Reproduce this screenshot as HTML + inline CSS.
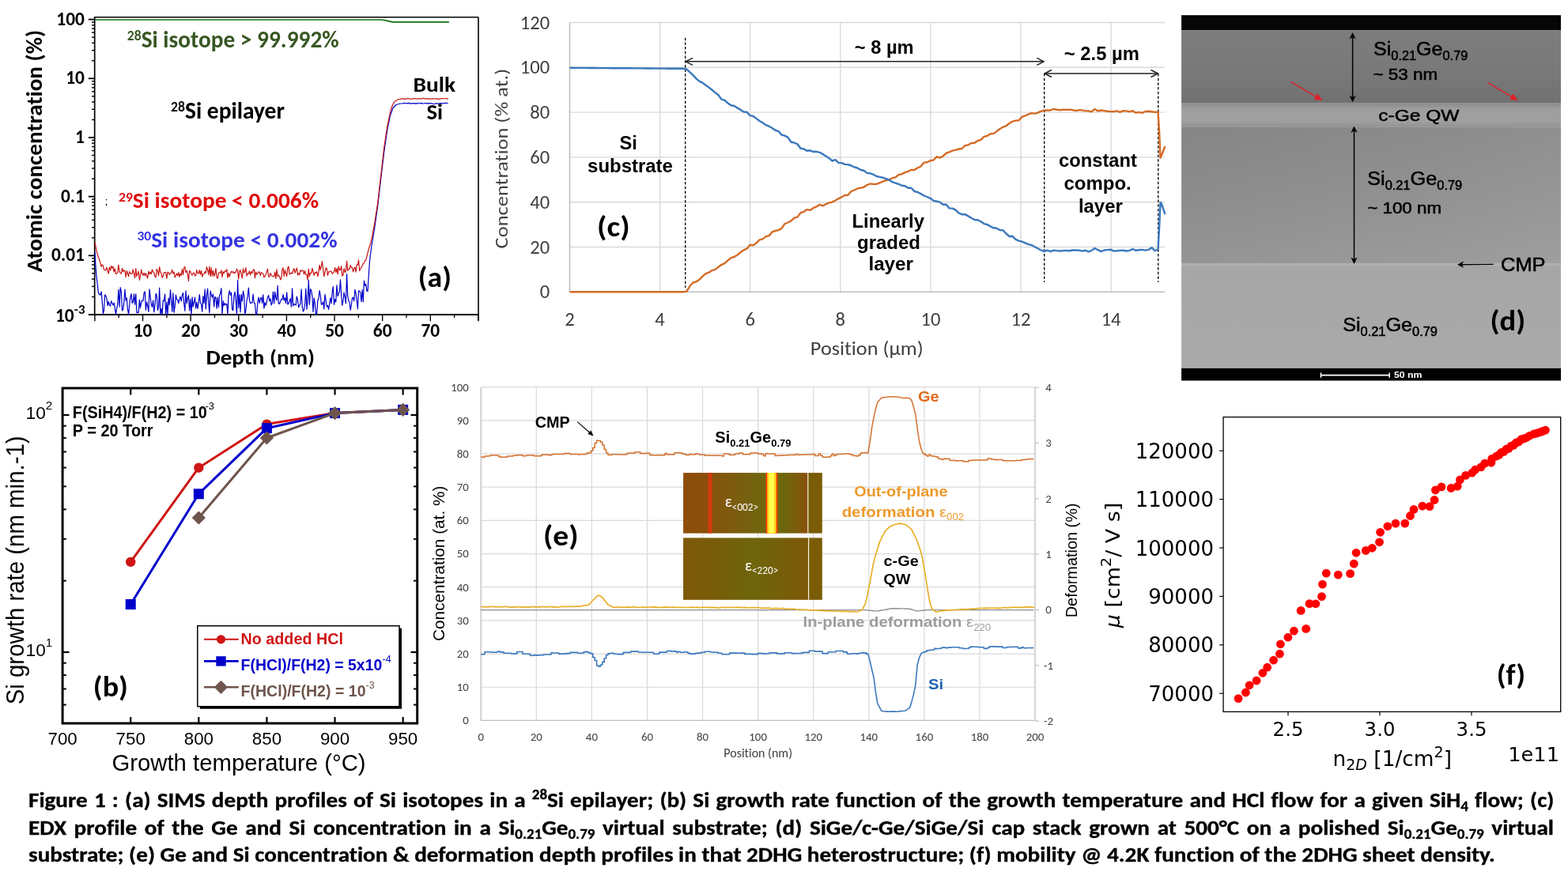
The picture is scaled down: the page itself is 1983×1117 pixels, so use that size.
<!DOCTYPE html>
<html><head><meta charset="utf-8"><title>Figure 1</title>
<style>html,body{margin:0;padding:0;background:#fff;overflow:hidden;}svg{display:block;} text{font-variant-ligatures:none;}</style></head>
<body><svg width="1983" height="1117" viewBox="0 0 1983 1117">
<rect width="1983" height="1117" fill="#fff"/>
<line x1="605.00" y1="21.80" x2="605.00" y2="405.50" stroke="#000" stroke-width="1.6"/>
<line x1="119.70" y1="21.80" x2="605.00" y2="21.80" stroke="#000" stroke-width="1.6"/>
<line x1="119.70" y1="21.00" x2="119.70" y2="398.80" stroke="#000" stroke-width="1.7"/>
<line x1="112.00" y1="398.00" x2="606.00" y2="398.00" stroke="#000" stroke-width="2"/>
<line x1="111.80" y1="398.00" x2="120.00" y2="398.00" stroke="#000" stroke-width="1.8"/>
<line x1="116.00" y1="375.52" x2="120.00" y2="375.52" stroke="#000" stroke-width="1.4"/>
<line x1="116.00" y1="362.37" x2="120.00" y2="362.37" stroke="#000" stroke-width="1.4"/>
<line x1="116.00" y1="353.04" x2="120.00" y2="353.04" stroke="#000" stroke-width="1.4"/>
<line x1="116.00" y1="345.80" x2="120.00" y2="345.80" stroke="#000" stroke-width="1.4"/>
<line x1="116.00" y1="339.89" x2="120.00" y2="339.89" stroke="#000" stroke-width="1.4"/>
<line x1="116.00" y1="334.89" x2="120.00" y2="334.89" stroke="#000" stroke-width="1.4"/>
<line x1="116.00" y1="330.56" x2="120.00" y2="330.56" stroke="#000" stroke-width="1.4"/>
<line x1="116.00" y1="326.74" x2="120.00" y2="326.74" stroke="#000" stroke-width="1.4"/>
<line x1="111.80" y1="323.32" x2="120.00" y2="323.32" stroke="#000" stroke-width="1.8"/>
<line x1="116.00" y1="300.84" x2="120.00" y2="300.84" stroke="#000" stroke-width="1.4"/>
<line x1="116.00" y1="287.69" x2="120.00" y2="287.69" stroke="#000" stroke-width="1.4"/>
<line x1="116.00" y1="278.36" x2="120.00" y2="278.36" stroke="#000" stroke-width="1.4"/>
<line x1="116.00" y1="271.12" x2="120.00" y2="271.12" stroke="#000" stroke-width="1.4"/>
<line x1="116.00" y1="265.21" x2="120.00" y2="265.21" stroke="#000" stroke-width="1.4"/>
<line x1="116.00" y1="260.21" x2="120.00" y2="260.21" stroke="#000" stroke-width="1.4"/>
<line x1="116.00" y1="255.88" x2="120.00" y2="255.88" stroke="#000" stroke-width="1.4"/>
<line x1="116.00" y1="252.06" x2="120.00" y2="252.06" stroke="#000" stroke-width="1.4"/>
<line x1="111.80" y1="248.64" x2="120.00" y2="248.64" stroke="#000" stroke-width="1.8"/>
<line x1="116.00" y1="226.16" x2="120.00" y2="226.16" stroke="#000" stroke-width="1.4"/>
<line x1="116.00" y1="213.01" x2="120.00" y2="213.01" stroke="#000" stroke-width="1.4"/>
<line x1="116.00" y1="203.68" x2="120.00" y2="203.68" stroke="#000" stroke-width="1.4"/>
<line x1="116.00" y1="196.44" x2="120.00" y2="196.44" stroke="#000" stroke-width="1.4"/>
<line x1="116.00" y1="190.53" x2="120.00" y2="190.53" stroke="#000" stroke-width="1.4"/>
<line x1="116.00" y1="185.53" x2="120.00" y2="185.53" stroke="#000" stroke-width="1.4"/>
<line x1="116.00" y1="181.20" x2="120.00" y2="181.20" stroke="#000" stroke-width="1.4"/>
<line x1="116.00" y1="177.38" x2="120.00" y2="177.38" stroke="#000" stroke-width="1.4"/>
<line x1="111.80" y1="173.96" x2="120.00" y2="173.96" stroke="#000" stroke-width="1.8"/>
<line x1="116.00" y1="151.48" x2="120.00" y2="151.48" stroke="#000" stroke-width="1.4"/>
<line x1="116.00" y1="138.33" x2="120.00" y2="138.33" stroke="#000" stroke-width="1.4"/>
<line x1="116.00" y1="129.00" x2="120.00" y2="129.00" stroke="#000" stroke-width="1.4"/>
<line x1="116.00" y1="121.76" x2="120.00" y2="121.76" stroke="#000" stroke-width="1.4"/>
<line x1="116.00" y1="115.85" x2="120.00" y2="115.85" stroke="#000" stroke-width="1.4"/>
<line x1="116.00" y1="110.85" x2="120.00" y2="110.85" stroke="#000" stroke-width="1.4"/>
<line x1="116.00" y1="106.52" x2="120.00" y2="106.52" stroke="#000" stroke-width="1.4"/>
<line x1="116.00" y1="102.70" x2="120.00" y2="102.70" stroke="#000" stroke-width="1.4"/>
<line x1="111.80" y1="99.28" x2="120.00" y2="99.28" stroke="#000" stroke-width="1.8"/>
<line x1="116.00" y1="76.80" x2="120.00" y2="76.80" stroke="#000" stroke-width="1.4"/>
<line x1="116.00" y1="63.65" x2="120.00" y2="63.65" stroke="#000" stroke-width="1.4"/>
<line x1="116.00" y1="54.32" x2="120.00" y2="54.32" stroke="#000" stroke-width="1.4"/>
<line x1="116.00" y1="47.08" x2="120.00" y2="47.08" stroke="#000" stroke-width="1.4"/>
<line x1="116.00" y1="41.17" x2="120.00" y2="41.17" stroke="#000" stroke-width="1.4"/>
<line x1="116.00" y1="36.17" x2="120.00" y2="36.17" stroke="#000" stroke-width="1.4"/>
<line x1="116.00" y1="31.84" x2="120.00" y2="31.84" stroke="#000" stroke-width="1.4"/>
<line x1="116.00" y1="28.02" x2="120.00" y2="28.02" stroke="#000" stroke-width="1.4"/>
<line x1="111.80" y1="24.60" x2="120.00" y2="24.60" stroke="#000" stroke-width="1.8"/>
<line x1="119.90" y1="398.00" x2="119.90" y2="406.20" stroke="#000" stroke-width="1.4"/>
<line x1="150.22" y1="398.00" x2="150.22" y2="402.00" stroke="#000" stroke-width="1.4"/>
<line x1="180.53" y1="398.00" x2="180.53" y2="406.20" stroke="#000" stroke-width="1.4"/>
<line x1="210.84" y1="398.00" x2="210.84" y2="402.00" stroke="#000" stroke-width="1.4"/>
<line x1="241.16" y1="398.00" x2="241.16" y2="406.20" stroke="#000" stroke-width="1.4"/>
<line x1="271.48" y1="398.00" x2="271.48" y2="402.00" stroke="#000" stroke-width="1.4"/>
<line x1="301.79" y1="398.00" x2="301.79" y2="406.20" stroke="#000" stroke-width="1.4"/>
<line x1="332.11" y1="398.00" x2="332.11" y2="402.00" stroke="#000" stroke-width="1.4"/>
<line x1="362.42" y1="398.00" x2="362.42" y2="406.20" stroke="#000" stroke-width="1.4"/>
<line x1="392.74" y1="398.00" x2="392.74" y2="402.00" stroke="#000" stroke-width="1.4"/>
<line x1="423.05" y1="398.00" x2="423.05" y2="406.20" stroke="#000" stroke-width="1.4"/>
<line x1="453.37" y1="398.00" x2="453.37" y2="402.00" stroke="#000" stroke-width="1.4"/>
<line x1="483.68" y1="398.00" x2="483.68" y2="406.20" stroke="#000" stroke-width="1.4"/>
<line x1="514.00" y1="398.00" x2="514.00" y2="402.00" stroke="#000" stroke-width="1.4"/>
<line x1="544.31" y1="398.00" x2="544.31" y2="406.20" stroke="#000" stroke-width="1.4"/>
<line x1="574.62" y1="398.00" x2="574.62" y2="402.00" stroke="#000" stroke-width="1.4"/>
<line x1="604.94" y1="398.00" x2="604.94" y2="406.20" stroke="#000" stroke-width="1.4"/>
<text transform="translate(106.90,31.60)" font-family="Carlito, 'Liberation Sans', sans-serif" font-weight="bold" font-size="23.40" fill="#000" text-anchor="end"><tspan>100</tspan></text>
<text transform="translate(106.90,106.28)" font-family="Carlito, 'Liberation Sans', sans-serif" font-weight="bold" font-size="23.40" fill="#000" text-anchor="end"><tspan>10</tspan></text>
<text transform="translate(106.90,180.96)" font-family="Carlito, 'Liberation Sans', sans-serif" font-weight="bold" font-size="23.40" fill="#000" text-anchor="end"><tspan>1</tspan></text>
<text transform="translate(106.90,255.64)" font-family="Carlito, 'Liberation Sans', sans-serif" font-weight="bold" font-size="23.40" fill="#000" text-anchor="end"><tspan>0.1</tspan></text>
<text transform="translate(106.90,330.32)" font-family="Carlito, 'Liberation Sans', sans-serif" font-weight="bold" font-size="23.40" fill="#000" text-anchor="end"><tspan>0.01</tspan></text>
<text transform="translate(70.00,407.20)" font-family="Carlito, 'Liberation Sans', sans-serif" font-weight="bold" font-size="23.40" fill="#000" text-anchor="start"><tspan>10</tspan><tspan dy="-9.83" font-size="16.85">-3</tspan></text>
<text transform="translate(180.53,426.00)" font-family="Carlito, 'Liberation Sans', sans-serif" font-weight="bold" font-size="23.40" fill="#000" text-anchor="middle"><tspan>10</tspan></text>
<text transform="translate(241.16,426.00)" font-family="Carlito, 'Liberation Sans', sans-serif" font-weight="bold" font-size="23.40" fill="#000" text-anchor="middle"><tspan>20</tspan></text>
<text transform="translate(301.79,426.00)" font-family="Carlito, 'Liberation Sans', sans-serif" font-weight="bold" font-size="23.40" fill="#000" text-anchor="middle"><tspan>30</tspan></text>
<text transform="translate(362.42,426.00)" font-family="Carlito, 'Liberation Sans', sans-serif" font-weight="bold" font-size="23.40" fill="#000" text-anchor="middle"><tspan>40</tspan></text>
<text transform="translate(423.05,426.00)" font-family="Carlito, 'Liberation Sans', sans-serif" font-weight="bold" font-size="23.40" fill="#000" text-anchor="middle"><tspan>50</tspan></text>
<text transform="translate(483.68,426.00)" font-family="Carlito, 'Liberation Sans', sans-serif" font-weight="bold" font-size="23.40" fill="#000" text-anchor="middle"><tspan>60</tspan></text>
<text transform="translate(544.31,426.00)" font-family="Carlito, 'Liberation Sans', sans-serif" font-weight="bold" font-size="23.40" fill="#000" text-anchor="middle"><tspan>70</tspan></text>
<text transform="translate(260.40,460.70) scale(1.0824,1)" font-family="Carlito, 'Liberation Sans', sans-serif" font-weight="bold" font-size="26.81" fill="#000" text-anchor="start"><tspan>Depth (nm)</tspan></text>
<text transform="translate(53.00,344.30) rotate(-90) scale(1.0705,1)" font-family="Carlito, 'Liberation Sans', sans-serif" font-weight="bold" font-size="27.27" fill="#000" text-anchor="start"><tspan>Atomic concentration (%)</tspan></text>
<polyline points="119.9,25.0 482.6,25.0 488.0,25.8 496.3,27.8 567.9,27.8" fill="none" stroke="#0f6e0f" stroke-width="1.7" stroke-linejoin="round"/>
<polyline points="120.0,318.7 121.2,339.6 122.3,351.8 123.5,362.1 124.6,371.2 125.8,372.3 126.9,373.2 128.1,369.0 129.2,380.6 130.4,396.9 131.5,392.2 132.7,372.8 133.8,374.1 135.0,378.1 136.1,386.6 137.3,381.5 138.4,386.0 139.6,387.0 140.7,380.8 141.9,383.5 143.0,386.1 144.2,383.1 145.3,389.3 146.5,398.0 147.6,390.2 148.8,384.6 149.9,366.3 151.1,388.1 152.2,363.6 153.4,369.2 154.5,393.0 155.7,391.4 156.8,382.4 158.0,366.0 159.1,380.1 160.3,376.9 161.4,390.7 162.6,398.0 163.7,386.3 164.9,375.8 166.0,371.7 167.2,383.4 168.3,382.1 169.5,371.9 170.6,385.2 171.8,371.9 172.9,395.7 174.1,395.2 175.2,395.4 176.4,379.0 177.5,389.4 178.7,382.6 179.8,379.9 181.0,380.4 182.1,370.4 183.3,368.8 184.4,392.3 185.6,382.0 186.7,386.3 187.9,394.5 189.0,365.8 190.2,375.8 191.3,385.8 192.5,388.1 193.6,380.0 194.8,394.8 195.9,386.2 197.1,371.3 198.2,374.2 199.4,392.5 200.5,388.9 201.7,364.1 202.8,398.0 204.0,390.3 205.1,398.0 206.3,380.0 207.4,380.9 208.6,372.2 209.7,398.0 210.9,382.2 212.0,398.0 213.2,377.2 214.3,385.7 215.5,366.5 216.6,380.0 217.8,394.3 218.9,370.9 220.1,395.3 221.2,387.5 222.4,373.0 223.5,378.7 224.7,379.2 225.8,383.5 227.0,378.4 228.1,375.3 229.3,380.8 230.4,373.2 231.6,370.5 232.7,383.5 233.9,393.3 235.0,367.9 236.2,384.0 237.3,377.2 238.5,373.7 239.6,393.0 240.8,378.6 241.9,398.0 243.1,375.8 244.2,388.1 245.4,381.6 246.5,376.1 247.7,390.2 248.8,382.4 250.0,390.3 251.1,383.5 252.3,372.6 253.4,382.9 254.6,384.5 255.7,394.1 256.9,374.5 258.0,383.6 259.2,365.9 260.3,390.8 261.5,372.6 262.6,365.0 263.8,383.4 264.9,395.6 266.1,368.0 267.2,372.6 268.4,376.2 269.5,372.1 270.7,388.0 271.8,375.5 273.0,376.4 274.1,390.1 275.3,376.1 276.4,388.5 277.6,373.8 278.7,371.3 279.9,364.7 281.0,398.0 282.2,380.6 283.3,386.6 284.5,383.7 285.6,385.7 286.8,384.5 287.9,398.0 289.1,373.1 290.2,367.6 291.4,373.4 292.5,370.0 293.7,391.8 294.8,392.6 296.0,373.9 297.1,369.4 298.3,380.3 299.4,398.0 300.6,354.4 301.7,389.5 302.9,372.7 304.0,394.9 305.2,372.7 306.3,381.0 307.5,368.2 308.6,373.7 309.8,398.0 310.9,392.6 312.1,379.8 313.2,374.9 314.4,364.1 315.5,379.9 316.7,383.7 317.8,383.1 319.0,383.0 320.1,372.2 321.3,383.3 322.4,383.6 323.6,397.6 324.7,398.0 325.9,382.6 327.0,376.0 328.2,383.3 329.3,377.6 330.5,376.2 331.6,383.3 332.8,372.9 333.9,390.2 335.1,382.7 336.2,386.3 337.4,381.8 338.5,376.0 339.7,373.6 340.8,381.0 342.0,377.7 343.1,385.9 344.3,383.3 345.4,369.0 346.6,384.0 347.7,369.1 348.9,376.7 350.0,380.0 351.2,361.3 352.3,384.0 353.5,384.5 354.6,381.2 355.8,378.4 356.9,378.9 358.1,372.5 359.2,379.9 360.4,376.8 361.5,383.6 362.7,369.9 363.8,385.0 365.0,384.0 366.1,380.9 367.3,377.7 368.4,388.1 369.6,364.8 370.7,387.0 371.9,384.7 373.0,385.1 374.2,386.1 375.3,375.1 376.5,379.2 377.6,388.6 378.8,386.4 379.9,384.0 381.1,365.8 382.2,387.3 383.4,393.9 384.5,392.2 385.7,384.0 386.8,365.1 388.0,391.3 389.1,379.8 390.3,354.7 391.4,385.2 392.6,365.6 393.7,367.6 394.9,374.5 396.0,394.4 397.2,377.1 398.3,383.8 399.5,398.0 400.6,397.6 401.8,379.7 402.9,378.2 404.1,367.5 405.2,373.4 406.4,385.1 407.5,384.7 408.7,381.7 409.8,390.9 411.0,372.3 412.1,379.8 413.3,388.0 414.4,386.4 415.6,391.4 416.7,384.3 417.9,376.8 419.0,383.8 420.2,369.4 421.3,362.5 422.5,385.5 423.6,378.6 424.8,382.1 425.9,360.8 427.1,374.5 428.2,371.7 429.4,368.7 430.5,353.8 431.7,373.7 432.8,386.3 434.0,380.7 435.1,370.1 436.3,375.9 437.4,383.8 438.6,346.6 439.7,374.0 440.9,380.7 442.0,381.9 443.2,392.3 444.3,386.1 445.5,377.0 446.6,376.3 447.8,380.8 448.9,366.3 450.1,370.9 451.2,380.2 452.4,390.6 453.5,367.8 454.7,368.3 455.8,370.3 457.0,381.7 458.1,366.7 459.3,381.8 460.4,355.2 461.6,361.5 462.7,359.4 463.9,367.8 465.0,368.6 467.5,330.0 469.8,312.0 473.5,290.0 477.5,262.0 481.5,228.0 485.5,194.0 489.5,166.0 493.5,146.0 497.0,136.5 501.0,132.5 506.0,131.0 510.0,130.8 511.0,130.3 512.5,130.5 514.0,130.9 515.5,130.6 517.0,130.3 518.5,131.1 520.0,130.9 521.5,130.9 523.0,130.7 524.5,131.1 526.0,130.7 527.5,131.1 529.0,130.5 530.5,130.5 532.0,130.9 533.5,130.6 535.0,131.0 536.5,130.9 538.0,130.5 539.5,130.8 541.0,130.7 542.5,131.1 544.0,130.6 545.5,130.7 547.0,131.2 548.5,131.5 550.0,131.4 551.5,130.8 553.0,130.9 554.5,131.3 556.0,130.8 557.5,130.5 559.0,130.8 560.5,130.9 562.0,130.6 563.5,130.3 565.0,130.4 566.5,131.0" fill="none" stroke="#0000c8" stroke-width="1.2" stroke-linejoin="round"/>
<polyline points="120.0,306.0 121.2,312.5 122.3,317.9 123.5,322.5 124.6,326.1 125.8,328.6 126.9,332.3 128.1,337.3 129.2,334.9 130.4,335.8 131.5,341.1 132.7,341.8 133.8,341.7 135.0,338.1 136.1,342.5 137.3,346.1 138.4,338.0 139.6,342.1 140.7,336.4 141.9,339.2 143.0,337.1 144.2,344.0 145.3,339.9 146.5,346.5 147.6,346.1 148.8,344.7 149.9,335.0 151.1,343.4 152.2,345.5 153.4,346.2 154.5,339.4 155.7,343.8 156.8,341.8 158.0,342.5 159.1,350.4 160.3,342.5 161.4,345.8 162.6,349.7 163.7,343.5 164.9,345.5 166.0,346.4 167.2,346.2 168.3,340.8 169.5,346.3 170.6,351.7 171.8,339.5 172.9,349.6 174.1,346.5 175.2,343.3 176.4,354.4 177.5,349.2 178.7,341.0 179.8,346.3 181.0,348.4 182.1,345.2 183.3,348.9 184.4,345.7 185.6,348.8 186.7,352.0 187.9,343.2 189.0,346.9 190.2,344.1 191.3,346.5 192.5,341.0 193.6,343.6 194.8,345.2 195.9,349.8 197.1,350.8 198.2,340.4 199.4,342.7 200.5,348.7 201.7,337.6 202.8,344.1 204.0,345.6 205.1,351.3 206.3,348.9 207.4,344.6 208.6,344.5 209.7,344.9 210.9,352.4 212.0,344.2 213.2,344.7 214.3,347.5 215.5,345.5 216.6,345.2 217.8,341.3 218.9,346.0 220.1,344.1 221.2,350.9 222.4,348.7 223.5,345.9 224.7,348.8 225.8,344.6 227.0,350.4 228.1,346.0 229.3,348.5 230.4,340.6 231.6,347.5 232.7,338.9 233.9,337.5 235.0,344.7 236.2,342.2 237.3,346.7 238.5,355.4 239.6,342.5 240.8,343.4 241.9,346.9 243.1,348.1 244.2,345.3 245.4,345.1 246.5,349.0 247.7,348.2 248.8,341.7 250.0,345.7 251.1,346.1 252.3,341.6 253.4,347.1 254.6,342.4 255.7,350.1 256.9,346.8 258.0,346.4 259.2,343.5 260.3,345.5 261.5,337.6 262.6,341.2 263.8,347.5 264.9,337.1 266.1,349.6 267.2,338.7 268.4,349.2 269.5,342.4 270.7,349.3 271.8,346.5 273.0,339.5 274.1,351.2 275.3,352.1 276.4,345.7 277.6,344.8 278.7,345.3 279.9,341.9 281.0,350.6 282.2,343.7 283.3,345.8 284.5,342.7 285.6,343.4 286.8,340.6 287.9,351.3 289.1,345.4 290.2,350.1 291.4,346.1 292.5,343.1 293.7,344.6 294.8,343.6 296.0,346.0 297.1,344.4 298.3,344.7 299.4,340.2 300.6,342.6 301.7,352.9 302.9,343.2 304.0,341.6 305.2,347.4 306.3,351.9 307.5,339.9 308.6,345.1 309.8,343.3 310.9,338.6 312.1,349.1 313.2,345.9 314.4,346.3 315.5,342.8 316.7,347.9 317.8,343.7 319.0,345.4 320.1,341.3 321.3,340.9 322.4,351.6 323.6,343.9 324.7,347.2 325.9,345.9 327.0,344.1 328.2,343.9 329.3,348.6 330.5,344.7 331.6,345.4 332.8,346.1 333.9,350.9 335.1,348.9 336.2,347.6 337.4,343.6 338.5,340.2 339.7,350.0 340.8,350.1 342.0,345.4 343.1,348.3 344.3,349.3 345.4,349.5 346.6,349.9 347.7,344.1 348.9,352.4 350.0,340.8 351.2,349.6 352.3,348.1 353.5,349.7 354.6,353.9 355.8,352.2 356.9,341.2 358.1,338.9 359.2,349.4 360.4,341.7 361.5,345.9 362.7,349.5 363.8,339.1 365.0,337.1 366.1,347.1 367.3,346.2 368.4,345.0 369.6,346.2 370.7,342.4 371.9,339.6 373.0,345.3 374.2,341.9 375.3,339.1 376.5,348.1 377.6,345.7 378.8,347.7 379.9,341.8 381.1,343.2 382.2,341.8 383.4,342.3 384.5,346.8 385.7,342.7 386.8,347.5 388.0,347.4 389.1,354.5 390.3,340.1 391.4,349.6 392.6,345.4 393.7,345.6 394.9,339.4 396.0,343.5 397.2,348.4 398.3,344.8 399.5,345.4 400.6,343.7 401.8,349.7 402.9,344.6 404.1,335.4 405.2,341.6 406.4,336.1 407.5,330.6 408.7,341.9 409.8,349.6 411.0,344.1 412.1,338.9 413.3,339.7 414.4,348.3 415.6,344.1 416.7,343.5 417.9,343.0 419.0,343.3 420.2,346.4 421.3,345.2 422.5,343.7 423.6,338.3 424.8,344.7 425.9,339.5 427.1,346.9 428.2,336.8 429.4,341.5 430.5,341.9 431.7,336.3 432.8,349.0 434.0,347.7 435.1,339.5 436.3,344.6 437.4,342.9 438.6,330.2 439.7,342.1 440.9,340.5 442.0,340.7 443.2,335.4 444.3,338.4 445.5,338.4 446.6,343.8 447.8,339.8 448.9,338.0 450.1,344.1 451.2,334.9 452.4,335.2 453.5,328.9 454.7,342.7 455.8,339.5 457.0,338.4 458.1,336.5 459.3,333.3 460.4,332.9 461.6,330.0 462.7,329.4 464.3,323.0 466.0,316.0 469.7,304.2 473.7,282.7 477.8,255.8 481.8,220.9 485.8,186.0 489.9,159.1 493.9,140.3 496.5,132.5 499.3,128.2 503.0,126.0 508.7,124.9 510.0,124.9 511.5,125.4 513.0,125.1 514.5,124.9 516.0,124.7 517.5,124.7 519.0,125.5 520.5,125.1 522.0,124.9 523.5,124.8 525.0,124.5 526.5,124.9 528.0,125.2 529.5,124.8 531.0,124.8 532.5,124.8 534.0,124.9 535.5,124.3 537.0,124.8 538.5,124.6 540.0,125.2 541.5,124.6 543.0,125.1 544.5,125.4 546.0,124.8 547.5,124.7 549.0,125.0 550.5,124.9 552.0,124.6 553.5,125.1 555.0,125.6 556.5,124.8 558.0,124.8 559.5,124.5 561.0,125.0 562.5,124.5 564.0,124.5 565.5,125.3 567.0,124.6" fill="none" stroke="#c81414" stroke-width="1.2" stroke-linejoin="round"/>
<text transform="translate(160.78,60.40) scale(0.9822,1)" font-family="Carlito, 'Liberation Sans', sans-serif" font-weight="bold" font-size="29.89" fill="#385723" text-anchor="start"><tspan dy="-9.27" font-size="17.94">28</tspan><tspan dy="9.27">Si isotope &gt; 99.992%</tspan></text>
<text transform="translate(216.08,150.40) scale(0.9969,1)" font-family="Carlito, 'Liberation Sans', sans-serif" font-weight="bold" font-size="29.58" fill="#000" text-anchor="start"><tspan dy="-9.17" font-size="17.75">28</tspan><tspan dy="9.17">Si epilayer</tspan></text>
<text transform="translate(149.98,263.40) scale(1.0708,1)" font-family="Carlito, 'Liberation Sans', sans-serif" font-weight="bold" font-size="27.43" fill="#e00a0a" text-anchor="start"><tspan dy="-8.50" font-size="16.46">29</tspan><tspan dy="8.50">Si isotope &lt; 0.006%</tspan></text>
<text transform="translate(173.38,312.50) scale(1.0473,1)" font-family="Carlito, 'Liberation Sans', sans-serif" font-weight="bold" font-size="28.04" fill="#3434e0" text-anchor="start"><tspan dy="-8.69" font-size="16.83">30</tspan><tspan dy="8.69">Si isotope &lt; 0.002%</tspan></text>
<text transform="translate(522.54,115.90) scale(1.1020,1)" font-family="Carlito, 'Liberation Sans', sans-serif" font-weight="bold" font-size="26.66" fill="#000" text-anchor="start"><tspan>Bulk</tspan></text>
<text transform="translate(539.43,150.90) scale(1.0465,1)" font-family="Carlito, 'Liberation Sans', sans-serif" font-weight="bold" font-size="27.43" fill="#000" text-anchor="start"><tspan>Si</tspan></text>
<text transform="translate(528.73,362.80) scale(1.0242,1)" font-family="Carlito, 'Liberation Sans', sans-serif" font-weight="bold" font-size="36.90" fill="#000" text-anchor="start"><tspan>(a)</tspan></text>
<rect x="133.90" y="252.00" width="1.30" height="1.30" fill="#000" stroke="none" stroke-width="1"/>
<rect x="133.90" y="257.80" width="1.30" height="2.40" fill="#000" stroke="none" stroke-width="1"/>
<line x1="720.50" y1="312.50" x2="1473.00" y2="312.50" stroke="#d9d9d9" stroke-width="1.4"/>
<line x1="720.50" y1="255.70" x2="1473.00" y2="255.70" stroke="#d9d9d9" stroke-width="1.4"/>
<line x1="720.50" y1="198.90" x2="1473.00" y2="198.90" stroke="#d9d9d9" stroke-width="1.4"/>
<line x1="720.50" y1="142.10" x2="1473.00" y2="142.10" stroke="#d9d9d9" stroke-width="1.4"/>
<line x1="720.50" y1="85.30" x2="1473.00" y2="85.30" stroke="#d9d9d9" stroke-width="1.4"/>
<line x1="720.50" y1="28.50" x2="1473.00" y2="28.50" stroke="#d9d9d9" stroke-width="1.4"/>
<line x1="834.60" y1="28.50" x2="834.60" y2="369.30" stroke="#d9d9d9" stroke-width="1.4"/>
<line x1="948.70" y1="28.50" x2="948.70" y2="369.30" stroke="#d9d9d9" stroke-width="1.4"/>
<line x1="1062.80" y1="28.50" x2="1062.80" y2="369.30" stroke="#d9d9d9" stroke-width="1.4"/>
<line x1="1176.90" y1="28.50" x2="1176.90" y2="369.30" stroke="#d9d9d9" stroke-width="1.4"/>
<line x1="1291.00" y1="28.50" x2="1291.00" y2="369.30" stroke="#d9d9d9" stroke-width="1.4"/>
<line x1="1405.10" y1="28.50" x2="1405.10" y2="369.30" stroke="#d9d9d9" stroke-width="1.4"/>
<line x1="720.50" y1="28.50" x2="720.50" y2="369.30" stroke="#bfbfbf" stroke-width="1.6"/>
<line x1="720.50" y1="369.30" x2="1473.00" y2="369.30" stroke="#bfbfbf" stroke-width="1.6"/>
<text transform="translate(695.20,377.30)" font-family="Carlito, 'Liberation Sans', sans-serif" font-weight="normal" font-size="24.60" fill="#404040" text-anchor="end"><tspan>0</tspan></text>
<text transform="translate(695.20,320.50)" font-family="Carlito, 'Liberation Sans', sans-serif" font-weight="normal" font-size="24.60" fill="#404040" text-anchor="end"><tspan>20</tspan></text>
<text transform="translate(695.20,263.70)" font-family="Carlito, 'Liberation Sans', sans-serif" font-weight="normal" font-size="24.60" fill="#404040" text-anchor="end"><tspan>40</tspan></text>
<text transform="translate(695.20,206.90)" font-family="Carlito, 'Liberation Sans', sans-serif" font-weight="normal" font-size="24.60" fill="#404040" text-anchor="end"><tspan>60</tspan></text>
<text transform="translate(695.20,150.10)" font-family="Carlito, 'Liberation Sans', sans-serif" font-weight="normal" font-size="24.60" fill="#404040" text-anchor="end"><tspan>80</tspan></text>
<text transform="translate(695.20,93.30)" font-family="Carlito, 'Liberation Sans', sans-serif" font-weight="normal" font-size="24.60" fill="#404040" text-anchor="end"><tspan>100</tspan></text>
<text transform="translate(695.20,36.50)" font-family="Carlito, 'Liberation Sans', sans-serif" font-weight="normal" font-size="24.60" fill="#404040" text-anchor="end"><tspan>120</tspan></text>
<text transform="translate(720.50,411.90)" font-family="Carlito, 'Liberation Sans', sans-serif" font-weight="normal" font-size="24.60" fill="#404040" text-anchor="middle"><tspan>2</tspan></text>
<text transform="translate(834.60,411.90)" font-family="Carlito, 'Liberation Sans', sans-serif" font-weight="normal" font-size="24.60" fill="#404040" text-anchor="middle"><tspan>4</tspan></text>
<text transform="translate(948.70,411.90)" font-family="Carlito, 'Liberation Sans', sans-serif" font-weight="normal" font-size="24.60" fill="#404040" text-anchor="middle"><tspan>6</tspan></text>
<text transform="translate(1062.80,411.90)" font-family="Carlito, 'Liberation Sans', sans-serif" font-weight="normal" font-size="24.60" fill="#404040" text-anchor="middle"><tspan>8</tspan></text>
<text transform="translate(1176.90,411.90)" font-family="Carlito, 'Liberation Sans', sans-serif" font-weight="normal" font-size="24.60" fill="#404040" text-anchor="middle"><tspan>10</tspan></text>
<text transform="translate(1291.00,411.90)" font-family="Carlito, 'Liberation Sans', sans-serif" font-weight="normal" font-size="24.60" fill="#404040" text-anchor="middle"><tspan>12</tspan></text>
<text transform="translate(1405.10,411.90)" font-family="Carlito, 'Liberation Sans', sans-serif" font-weight="normal" font-size="24.60" fill="#404040" text-anchor="middle"><tspan>14</tspan></text>
<text transform="translate(1024.86,449.20) scale(1.1090,1)" font-family="Carlito, 'Liberation Sans', sans-serif" font-weight="normal" font-size="23.68" fill="#404040" text-anchor="start"><tspan>Position (µm)</tspan></text>
<text transform="translate(642.40,314.39) rotate(-90) scale(1.2233,1)" font-family="Carlito, 'Liberation Sans', sans-serif" font-weight="normal" font-size="21.65" fill="#404040" text-anchor="start"><tspan>Concentration (% at.)</tspan></text>
<line x1="866.70" y1="47.70" x2="866.70" y2="364.00" stroke="#000" stroke-width="1.3" stroke-dasharray="3.5,2.2"/>
<line x1="1320.70" y1="93.00" x2="1320.70" y2="357.00" stroke="#000" stroke-width="1.3" stroke-dasharray="3.5,2.2"/>
<line x1="1464.80" y1="93.00" x2="1464.80" y2="357.00" stroke="#000" stroke-width="1.3" stroke-dasharray="3.5,2.2"/>
<polyline points="720.5,369.3 724.5,369.3 728.5,369.3 732.5,369.3 736.5,369.3 740.5,369.3 744.5,369.3 748.5,369.3 752.5,369.3 756.5,369.3 760.5,369.3 764.5,369.3 768.5,369.3 772.5,369.3 776.5,369.3 780.5,369.3 784.5,369.3 788.5,369.3 792.5,369.3 796.5,369.3 800.5,369.3 804.5,369.3 808.5,369.3 812.5,369.3 816.5,369.3 820.5,369.3 824.5,369.3 828.5,369.3 832.5,369.3 836.5,369.3 840.5,369.3 844.5,369.3 848.5,369.3 852.5,369.3 856.5,369.3 860.5,369.3 864.5,369.3 868.5,368.3 872.5,361.8 876.5,357.5 880.5,356.3 884.5,353.7 888.5,349.7 892.5,346.2 896.5,344.7 900.5,342.1 904.5,340.9 908.5,337.8 912.5,334.8 916.5,333.1 920.5,329.4 924.5,326.2 928.5,325.0 932.5,322.5 936.5,319.3 940.5,316.3 944.5,314.7 948.5,309.7 952.5,310.2 956.5,307.6 960.5,303.3 964.5,302.4 968.5,299.1 972.5,298.3 976.5,293.4 980.5,292.0 984.5,291.1 988.5,288.9 992.5,283.0 996.5,281.5 1000.5,279.4 1004.5,275.6 1008.5,274.6 1012.5,269.2 1016.5,267.8 1020.5,265.1 1024.5,265.9 1028.5,263.2 1032.5,261.4 1036.5,258.8 1040.5,260.4 1044.5,258.2 1048.5,256.7 1052.5,255.6 1056.5,253.5 1060.5,251.2 1064.5,249.3 1068.5,247.0 1072.5,246.8 1076.5,242.0 1080.5,240.5 1084.5,238.5 1088.5,237.6 1092.5,236.8 1096.5,234.0 1100.5,232.5 1104.5,232.9 1108.5,232.9 1112.5,231.3 1116.5,229.7 1120.5,228.1 1124.5,227.4 1128.5,225.2 1132.5,224.3 1136.5,221.1 1140.5,220.1 1144.5,218.1 1148.5,216.9 1152.5,214.8 1156.5,215.1 1160.5,212.3 1164.5,210.5 1168.5,205.6 1172.5,205.3 1176.5,203.3 1180.5,202.5 1184.5,198.2 1188.5,199.6 1192.5,197.7 1196.5,193.8 1200.5,192.3 1204.5,190.7 1208.5,189.7 1212.5,188.5 1216.5,188.0 1220.5,184.2 1224.5,183.3 1228.5,181.0 1232.5,180.7 1236.5,178.0 1240.5,176.8 1244.5,172.9 1248.5,171.9 1252.5,169.3 1256.5,169.1 1260.5,166.1 1264.5,163.0 1268.5,160.7 1272.5,159.3 1276.5,156.0 1280.5,153.6 1284.5,152.6 1288.5,152.2 1292.5,147.9 1296.5,146.4 1300.5,144.6 1304.5,143.2 1308.5,143.6 1312.5,142.6 1316.5,140.6 1320.5,139.8 1324.5,139.5 1328.5,139.5 1332.5,137.9 1336.5,138.8 1340.5,139.3 1344.5,138.6 1348.5,138.9 1352.5,138.6 1356.5,139.1 1360.5,140.2 1364.5,139.2 1368.5,139.4 1372.5,140.4 1376.5,140.3 1380.5,141.3 1384.5,137.9 1388.5,140.6 1392.5,139.5 1396.5,140.1 1400.5,140.8 1404.5,141.1 1408.5,141.1 1412.5,140.4 1416.5,141.8 1420.5,140.2 1424.5,140.4 1428.5,141.3 1432.5,140.2 1436.5,142.7 1440.5,141.8 1444.5,142.9 1448.5,141.0 1452.5,140.8 1456.5,141.3 1460.5,141.9 1464.5,141.5 1466.0,165.0 1467.5,199.7 1470.0,194.0 1473.4,185.0" fill="none" stroke="#d46b26" stroke-width="2.4" stroke-linejoin="round"/>
<polyline points="720.5,85.8 724.5,85.8 728.5,85.9 732.5,85.9 736.5,85.9 740.5,85.9 744.5,86.0 748.5,86.0 752.5,86.0 756.5,86.1 760.5,86.1 764.5,86.1 768.5,86.1 772.5,86.2 776.5,86.2 780.5,86.2 784.5,86.2 788.5,86.3 792.5,86.3 796.5,86.3 800.5,86.4 804.5,86.4 808.5,86.4 812.5,86.4 816.5,86.5 820.5,86.5 824.5,86.5 828.5,86.6 832.5,86.6 836.5,86.6 840.5,86.6 844.5,86.7 848.5,86.7 852.5,86.7 856.5,86.8 860.5,86.8 864.5,86.8 868.5,87.7 872.5,91.3 876.5,95.2 880.5,99.4 884.5,102.8 888.5,104.6 892.5,107.7 896.5,110.6 900.5,113.8 904.5,117.1 908.5,120.3 912.5,125.7 916.5,126.9 920.5,130.6 924.5,133.3 928.5,134.0 932.5,136.5 936.5,138.9 940.5,141.5 944.5,141.7 948.5,146.1 952.5,147.0 956.5,149.9 960.5,153.0 964.5,155.2 968.5,158.1 972.5,159.7 976.5,162.0 980.5,164.8 984.5,166.0 988.5,170.6 992.5,171.6 996.5,173.9 1000.5,179.7 1004.5,180.5 1008.5,182.3 1012.5,187.8 1016.5,188.4 1020.5,190.8 1024.5,190.3 1028.5,192.0 1032.5,191.8 1036.5,192.8 1040.5,194.9 1044.5,197.5 1048.5,200.1 1052.5,203.5 1056.5,202.2 1060.5,205.9 1064.5,206.1 1068.5,207.9 1072.5,208.1 1076.5,209.5 1080.5,211.5 1084.5,212.5 1088.5,215.0 1092.5,215.8 1096.5,218.9 1100.5,219.3 1104.5,220.7 1108.5,223.0 1112.5,223.9 1116.5,224.7 1120.5,226.1 1124.5,227.5 1128.5,230.2 1132.5,231.6 1136.5,232.8 1140.5,234.8 1144.5,235.2 1148.5,237.8 1152.5,237.7 1156.5,242.1 1160.5,243.0 1164.5,245.1 1168.5,247.5 1172.5,249.0 1176.5,250.8 1180.5,253.9 1184.5,254.7 1188.5,255.6 1192.5,258.7 1196.5,258.6 1200.5,263.4 1204.5,263.6 1208.5,265.6 1212.5,269.4 1216.5,271.2 1220.5,271.1 1224.5,273.4 1228.5,275.7 1232.5,278.0 1236.5,278.2 1240.5,280.3 1244.5,283.1 1248.5,284.0 1252.5,286.4 1256.5,288.3 1260.5,288.7 1264.5,291.0 1268.5,291.4 1272.5,295.5 1276.5,299.0 1280.5,298.8 1284.5,302.9 1288.5,304.6 1292.5,305.6 1296.5,307.3 1300.5,309.1 1304.5,310.0 1308.5,312.2 1312.5,314.2 1316.5,316.5 1320.5,318.1 1324.5,316.7 1328.5,318.1 1332.5,316.6 1336.5,317.1 1340.5,317.5 1344.5,317.1 1348.5,317.0 1352.5,317.3 1356.5,316.5 1360.5,316.4 1364.5,316.7 1368.5,317.7 1372.5,316.7 1376.5,318.5 1380.5,316.9 1384.5,314.0 1388.5,316.2 1392.5,318.1 1396.5,316.5 1400.5,316.1 1404.5,315.7 1408.5,317.6 1412.5,317.3 1416.5,316.9 1420.5,316.7 1424.5,317.5 1428.5,316.9 1432.5,315.0 1436.5,316.8 1440.5,316.2 1444.5,315.9 1448.5,316.6 1452.5,315.9 1456.5,313.2 1460.5,317.2 1464.5,315.5 1466.0,290.0 1467.5,256.0 1469.0,258.0 1473.4,271.0" fill="none" stroke="#3a78bd" stroke-width="2.4" stroke-linejoin="round"/>
<line x1="868.00" y1="77.80" x2="1319.00" y2="77.80" stroke="#222" stroke-width="1.5"/>
<polyline points="876.0,73.3 867.0,77.8 876.0,82.3" fill="none" stroke="#222" stroke-width="1.5" stroke-linejoin="round"/>
<polyline points="1311.3,82.3 1320.3,77.8 1311.3,73.3" fill="none" stroke="#222" stroke-width="1.5" stroke-linejoin="round"/>
<line x1="1322.00" y1="93.00" x2="1463.50" y2="93.00" stroke="#222" stroke-width="1.5"/>
<polyline points="1330.0,88.5 1321.0,93.0 1330.0,97.5" fill="none" stroke="#222" stroke-width="1.5" stroke-linejoin="round"/>
<polyline points="1455.5,97.5 1464.5,93.0 1455.5,88.5" fill="none" stroke="#222" stroke-width="1.5" stroke-linejoin="round"/>
<text transform="translate(1080.85,67.70) scale(0.9806,1)" font-family="'Liberation Sans', Arial, sans-serif" font-weight="bold" font-size="24.13" fill="#000" text-anchor="start"><tspan>~ 8 µm</tspan></text>
<text transform="translate(1345.85,75.60) scale(0.9853,1)" font-family="'Liberation Sans', Arial, sans-serif" font-weight="bold" font-size="24.13" fill="#000" text-anchor="start"><tspan>~ 2.5 µm</tspan></text>
<text transform="translate(783.49,188.70) scale(0.9810,1)" font-family="'Liberation Sans', Arial, sans-serif" font-weight="bold" font-size="24.13" fill="#000" text-anchor="start"><tspan>Si</tspan></text>
<text transform="translate(743.06,217.70) scale(1.0057,1)" font-family="'Liberation Sans', Arial, sans-serif" font-weight="bold" font-size="23.84" fill="#000" text-anchor="start"><tspan>substrate</tspan></text>
<text transform="translate(1077.45,287.90) scale(1.0017,1)" font-family="'Liberation Sans', Arial, sans-serif" font-weight="bold" font-size="23.84" fill="#000" text-anchor="start"><tspan>Linearly</tspan></text>
<text transform="translate(1084.04,315.10) scale(1.0066,1)" font-family="'Liberation Sans', Arial, sans-serif" font-weight="bold" font-size="23.84" fill="#000" text-anchor="start"><tspan>graded</tspan></text>
<text transform="translate(1098.40,342.30) scale(1.0162,1)" font-family="'Liberation Sans', Arial, sans-serif" font-weight="bold" font-size="23.84" fill="#000" text-anchor="start"><tspan>layer</tspan></text>
<text transform="translate(1339.05,211.00) scale(0.9950,1)" font-family="'Liberation Sans', Arial, sans-serif" font-weight="bold" font-size="23.84" fill="#000" text-anchor="start"><tspan>constant</tspan></text>
<text transform="translate(1345.44,239.50) scale(1.0068,1)" font-family="'Liberation Sans', Arial, sans-serif" font-weight="bold" font-size="23.84" fill="#000" text-anchor="start"><tspan>compo.</tspan></text>
<text transform="translate(1363.93,268.60) scale(1.0031,1)" font-family="'Liberation Sans', Arial, sans-serif" font-weight="bold" font-size="23.84" fill="#000" text-anchor="start"><tspan>layer</tspan></text>
<text transform="translate(755.11,298.50) scale(1.1081,1)" font-family="Carlito, 'Liberation Sans', sans-serif" font-weight="bold" font-size="36.00" fill="#000" text-anchor="start"><tspan>(c)</tspan></text>
<defs><linearGradient id="gTop" x1="0" y1="0" x2="0" y2="1"><stop offset="0" stop-color="#7d7d7d"/><stop offset="0.65" stop-color="#787878"/><stop offset="1" stop-color="#707070"/></linearGradient><linearGradient id="gQW" x1="0" y1="0" x2="0" y2="1"><stop offset="0" stop-color="#8c8c8c"/><stop offset="0.25" stop-color="#9e9e9e"/><stop offset="0.75" stop-color="#a0a0a0"/><stop offset="1" stop-color="#929292"/></linearGradient><linearGradient id="gMid" x1="0" y1="0" x2="0" y2="1"><stop offset="0" stop-color="#8c8c8c"/><stop offset="0.5" stop-color="#939393"/><stop offset="1" stop-color="#9c9c9c"/></linearGradient><linearGradient id="gMidH" x1="0" y1="0" x2="1" y2="0"><stop offset="0" stop-color="#000" stop-opacity="0.05"/><stop offset="0.45" stop-color="#000" stop-opacity="0.02"/><stop offset="1" stop-color="#fff" stop-opacity="0.03"/></linearGradient><linearGradient id="gBot" x1="0" y1="0" x2="0" y2="1"><stop offset="0" stop-color="#a6a6a6"/><stop offset="1" stop-color="#aaaaaa"/></linearGradient></defs>
<rect x="1494.10" y="19.20" width="479.90" height="19.20" fill="#060606" stroke="none" stroke-width="1"/>
<rect x="1494.10" y="38.30" width="479.90" height="92.40" fill="url(#gTop)" stroke="none" stroke-width="1"/>
<rect x="1494.10" y="130.50" width="479.90" height="30.00" fill="url(#gQW)" stroke="none" stroke-width="1"/>
<rect x="1494.10" y="160.30" width="479.90" height="173.20" fill="url(#gMid)" stroke="none" stroke-width="1"/>
<rect x="1494.10" y="160.30" width="479.90" height="173.20" fill="url(#gMidH)" stroke="none" stroke-width="1"/>
<rect x="1494.10" y="333.30" width="479.90" height="2.20" fill="#a9a9a9" stroke="none" stroke-width="1"/>
<rect x="1494.10" y="335.40" width="479.90" height="130.60" fill="url(#gBot)" stroke="none" stroke-width="1"/>
<rect x="1494.10" y="465.90" width="479.90" height="15.60" fill="#000" stroke="none" stroke-width="1"/>
<line x1="1670.50" y1="474.60" x2="1757.50" y2="474.60" stroke="#fff" stroke-width="1.6"/>
<line x1="1670.50" y1="471.50" x2="1670.50" y2="477.80" stroke="#fff" stroke-width="1.6"/>
<line x1="1757.20" y1="471.50" x2="1757.20" y2="477.80" stroke="#fff" stroke-width="1.6"/>
<text transform="translate(1762.93,478.30) scale(1.1579,1)" font-family="'Liberation Sans', Arial, sans-serif" font-weight="bold" font-size="10.61" fill="#fff" text-anchor="start"><tspan>50 nm</tspan></text>
<line x1="1710.60" y1="44.10" x2="1710.60" y2="126.20" stroke="#000" stroke-width="1.5"/>
<polygon points="1710.6,41.1 1714.8,49.6 1710.6,47.1 1706.4,49.6" fill="#000"/>
<polygon points="1710.6,129.2 1714.8,120.7 1710.6,123.2 1706.4,120.7" fill="#000"/>
<line x1="1712.50" y1="162.50" x2="1712.50" y2="331.00" stroke="#000" stroke-width="1.5"/>
<polygon points="1712.5,159.5 1716.7,168.0 1712.5,165.5 1708.3,168.0" fill="#000"/>
<polygon points="1712.5,334.0 1716.7,325.5 1712.5,328.0 1708.3,325.5" fill="#000"/>
<line x1="1846.00" y1="334.70" x2="1888.70" y2="334.40" stroke="#000" stroke-width="1.4"/>
<polygon points="1843,334.7 1851,330.6 1849,334.7 1851,338.8" fill="#000"/>
<line x1="1633.00" y1="103.60" x2="1664.87" y2="122.59" stroke="#e0202a" stroke-width="1.5"/>
<polygon points="1672.6,127.2 1661.9,125.7 1666.2,118.5" fill="#e0202a"/>
<line x1="1881.30" y1="104.40" x2="1912.15" y2="122.62" stroke="#e0202a" stroke-width="1.5"/>
<polygon points="1919.9,127.2 1909.2,125.7 1913.4,118.5" fill="#e0202a"/>
<text transform="translate(1736.97,70.20) scale(1.0286,1)" font-family="'Liberation Sans', Arial, sans-serif" font-weight="normal" font-size="24.42" fill="#000" text-anchor="start" stroke="#000" stroke-width="0.55"><tspan>Si</tspan><tspan dy="6.10" font-size="15.87">0.21</tspan><tspan dy="-6.10">Ge</tspan><tspan dy="6.10" font-size="15.87">0.79</tspan></text>
<text transform="translate(1736.49,101.00) scale(1.1377,1)" font-family="'Liberation Sans', Arial, sans-serif" font-weight="normal" font-size="19.77" fill="#000" text-anchor="start" stroke="#000" stroke-width="0.55"><tspan>~ 53 nm</tspan></text>
<text transform="translate(1743.22,152.50) scale(1.2068,1)" font-family="'Liberation Sans', Arial, sans-serif" font-weight="normal" font-size="20.35" fill="#000" text-anchor="start" stroke="#000" stroke-width="0.55"><tspan>c-Ge QW</tspan></text>
<text transform="translate(1729.26,233.70) scale(1.0338,1)" font-family="'Liberation Sans', Arial, sans-serif" font-weight="normal" font-size="24.42" fill="#000" text-anchor="start" stroke="#000" stroke-width="0.55"><tspan>Si</tspan><tspan dy="6.10" font-size="15.87">0.21</tspan><tspan dy="-6.10">Ge</tspan><tspan dy="6.10" font-size="15.87">0.79</tspan></text>
<text transform="translate(1729.19,270.20) scale(1.1318,1)" font-family="'Liberation Sans', Arial, sans-serif" font-weight="normal" font-size="19.77" fill="#000" text-anchor="start" stroke="#000" stroke-width="0.55"><tspan>~ 100 nm</tspan></text>
<text transform="translate(1898.03,343.20) scale(1.0798,1)" font-family="'Liberation Sans', Arial, sans-serif" font-weight="normal" font-size="23.55" fill="#000" text-anchor="start" stroke="#000" stroke-width="0.55"><tspan>CMP</tspan></text>
<text transform="translate(1698.16,418.60) scale(1.0391,1)" font-family="'Liberation Sans', Arial, sans-serif" font-weight="normal" font-size="24.27" fill="#000" text-anchor="start" stroke="#000" stroke-width="0.55"><tspan>Si</tspan><tspan dy="6.07" font-size="15.78">0.21</tspan><tspan dy="-6.07">Ge</tspan><tspan dy="6.07" font-size="15.78">0.79</tspan></text>
<text transform="translate(1884.59,417.80) scale(1.0832,1)" font-family="Carlito, 'Liberation Sans', sans-serif" font-weight="bold" font-size="35.60" fill="#000" text-anchor="start"><tspan>(d)</tspan></text>
<line x1="165.21" y1="491.00" x2="165.21" y2="499.50" stroke="#000" stroke-width="2.2"/>
<line x1="165.21" y1="915.00" x2="165.21" y2="907.00" stroke="#000" stroke-width="2.2"/>
<line x1="251.32" y1="491.00" x2="251.32" y2="499.50" stroke="#000" stroke-width="2.2"/>
<line x1="251.32" y1="915.00" x2="251.32" y2="907.00" stroke="#000" stroke-width="2.2"/>
<line x1="337.43" y1="491.00" x2="337.43" y2="499.50" stroke="#000" stroke-width="2.2"/>
<line x1="337.43" y1="915.00" x2="337.43" y2="907.00" stroke="#000" stroke-width="2.2"/>
<line x1="423.54" y1="491.00" x2="423.54" y2="499.50" stroke="#000" stroke-width="2.2"/>
<line x1="423.54" y1="915.00" x2="423.54" y2="907.00" stroke="#000" stroke-width="2.2"/>
<line x1="509.65" y1="491.00" x2="509.65" y2="499.50" stroke="#000" stroke-width="2.2"/>
<line x1="509.65" y1="915.00" x2="509.65" y2="907.00" stroke="#000" stroke-width="2.2"/>
<line x1="79.00" y1="825.00" x2="87.50" y2="825.00" stroke="#000" stroke-width="2.2"/>
<line x1="527.70" y1="825.00" x2="519.50" y2="825.00" stroke="#000" stroke-width="2.2"/>
<line x1="79.00" y1="525.00" x2="87.50" y2="525.00" stroke="#000" stroke-width="2.2"/>
<line x1="527.70" y1="525.00" x2="519.50" y2="525.00" stroke="#000" stroke-width="2.2"/>
<line x1="79.00" y1="891.55" x2="83.80" y2="891.55" stroke="#000" stroke-width="2"/>
<line x1="527.70" y1="891.55" x2="523.00" y2="891.55" stroke="#000" stroke-width="2"/>
<line x1="79.00" y1="871.47" x2="83.80" y2="871.47" stroke="#000" stroke-width="2"/>
<line x1="527.70" y1="871.47" x2="523.00" y2="871.47" stroke="#000" stroke-width="2"/>
<line x1="79.00" y1="854.07" x2="83.80" y2="854.07" stroke="#000" stroke-width="2"/>
<line x1="527.70" y1="854.07" x2="523.00" y2="854.07" stroke="#000" stroke-width="2"/>
<line x1="79.00" y1="838.73" x2="83.80" y2="838.73" stroke="#000" stroke-width="2"/>
<line x1="527.70" y1="838.73" x2="523.00" y2="838.73" stroke="#000" stroke-width="2"/>
<line x1="79.00" y1="734.69" x2="83.80" y2="734.69" stroke="#000" stroke-width="2"/>
<line x1="527.70" y1="734.69" x2="523.00" y2="734.69" stroke="#000" stroke-width="2"/>
<line x1="79.00" y1="681.86" x2="83.80" y2="681.86" stroke="#000" stroke-width="2"/>
<line x1="527.70" y1="681.86" x2="523.00" y2="681.86" stroke="#000" stroke-width="2"/>
<line x1="79.00" y1="644.38" x2="83.80" y2="644.38" stroke="#000" stroke-width="2"/>
<line x1="527.70" y1="644.38" x2="523.00" y2="644.38" stroke="#000" stroke-width="2"/>
<line x1="79.00" y1="615.31" x2="83.80" y2="615.31" stroke="#000" stroke-width="2"/>
<line x1="527.70" y1="615.31" x2="523.00" y2="615.31" stroke="#000" stroke-width="2"/>
<line x1="79.00" y1="591.55" x2="83.80" y2="591.55" stroke="#000" stroke-width="2"/>
<line x1="527.70" y1="591.55" x2="523.00" y2="591.55" stroke="#000" stroke-width="2"/>
<line x1="79.00" y1="571.47" x2="83.80" y2="571.47" stroke="#000" stroke-width="2"/>
<line x1="527.70" y1="571.47" x2="523.00" y2="571.47" stroke="#000" stroke-width="2"/>
<line x1="79.00" y1="554.07" x2="83.80" y2="554.07" stroke="#000" stroke-width="2"/>
<line x1="527.70" y1="554.07" x2="523.00" y2="554.07" stroke="#000" stroke-width="2"/>
<line x1="79.00" y1="538.73" x2="83.80" y2="538.73" stroke="#000" stroke-width="2"/>
<line x1="527.70" y1="538.73" x2="523.00" y2="538.73" stroke="#000" stroke-width="2"/>
<rect x="79.10" y="491.00" width="448.60" height="424.00" fill="none" stroke="#000" stroke-width="3"/>
<text transform="translate(79.10,941.80)" font-family="'Liberation Sans', Arial, sans-serif" font-weight="normal" font-size="22.30" fill="#000" text-anchor="middle"><tspan>700</tspan></text>
<text transform="translate(165.21,941.80)" font-family="'Liberation Sans', Arial, sans-serif" font-weight="normal" font-size="22.30" fill="#000" text-anchor="middle"><tspan>750</tspan></text>
<text transform="translate(251.32,941.80)" font-family="'Liberation Sans', Arial, sans-serif" font-weight="normal" font-size="22.30" fill="#000" text-anchor="middle"><tspan>800</tspan></text>
<text transform="translate(337.43,941.80)" font-family="'Liberation Sans', Arial, sans-serif" font-weight="normal" font-size="22.30" fill="#000" text-anchor="middle"><tspan>850</tspan></text>
<text transform="translate(423.54,941.80)" font-family="'Liberation Sans', Arial, sans-serif" font-weight="normal" font-size="22.30" fill="#000" text-anchor="middle"><tspan>900</tspan></text>
<text transform="translate(509.65,941.80)" font-family="'Liberation Sans', Arial, sans-serif" font-weight="normal" font-size="22.30" fill="#000" text-anchor="middle"><tspan>950</tspan></text>
<text transform="translate(32.60,530.00)" font-family="'Liberation Sans', Arial, sans-serif" font-weight="normal" font-size="22.70" fill="#000" text-anchor="start"><tspan>10</tspan><tspan dy="-11.80" font-size="15.21">2</tspan></text>
<text transform="translate(32.60,829.50)" font-family="'Liberation Sans', Arial, sans-serif" font-weight="normal" font-size="22.70" fill="#000" text-anchor="start"><tspan>10</tspan><tspan dy="-11.80" font-size="15.21">1</tspan></text>
<text transform="translate(141.43,974.50) scale(0.9987,1)" font-family="'Liberation Sans', Arial, sans-serif" font-weight="normal" font-size="29.36" fill="#000" text-anchor="start"><tspan>Growth temperature (°C)</tspan></text>
<text transform="translate(30.00,891.32) rotate(-90) scale(0.9637,1)" font-family="'Liberation Sans', Arial, sans-serif" font-weight="normal" font-size="30.52" fill="#000" text-anchor="start"><tspan>Si growth rate (nm min.-1)</tspan></text>
<polyline points="165.2,710.9 251.3,591.7 337.4,536.6 423.5,522.6 509.6,518.4" fill="none" stroke="#d01515" stroke-width="3" stroke-linejoin="round"/>
<polyline points="165.2,764.5 251.3,624.8 337.4,541.7 423.5,522.6 509.6,518.4" fill="none" stroke="#0000cc" stroke-width="3" stroke-linejoin="round"/>
<circle cx="165.21" cy="710.90" r="6.20" fill="#d01515"/>
<circle cx="251.32" cy="591.70" r="6.20" fill="#d01515"/>
<circle cx="337.43" cy="536.60" r="6.20" fill="#d01515"/>
<circle cx="423.54" cy="522.60" r="6.20" fill="#d01515"/>
<circle cx="509.65" cy="518.40" r="6.20" fill="#d01515"/>
<rect x="158.71" y="758.00" width="13.00" height="13.00" fill="#0000cc" stroke="none" stroke-width="1"/>
<rect x="244.82" y="618.30" width="13.00" height="13.00" fill="#0000cc" stroke="none" stroke-width="1"/>
<rect x="330.93" y="535.20" width="13.00" height="13.00" fill="#0000cc" stroke="none" stroke-width="1"/>
<rect x="417.04" y="516.10" width="13.00" height="13.00" fill="#0000cc" stroke="none" stroke-width="1"/>
<rect x="503.15" y="511.90" width="13.00" height="13.00" fill="#0000cc" stroke="none" stroke-width="1"/>
<polyline points="251.3,655.0 337.4,554.0 423.5,522.6 509.6,518.4" fill="none" stroke="#6e554c" stroke-width="3" stroke-linejoin="round"/>
<polygon points="251.3,646.4 259.9,655.0 251.3,663.6 242.7,655.0" fill="#6e554c"/>
<polygon points="337.4,545.4 346.0,554.0 337.4,562.6 328.8,554.0" fill="#6e554c"/>
<polygon points="423.5,514.0 432.1,522.6 423.5,531.2 414.9,522.6" fill="#6e554c"/>
<polygon points="509.6,509.8 518.2,518.4 509.6,527.0 501.0,518.4" fill="#6e554c"/>
<text transform="translate(91.81,528.70) scale(0.9330,1)" font-family="'Liberation Sans', Arial, sans-serif" font-weight="bold" font-size="21.22" fill="#000" text-anchor="start"><tspan>F(SiH4)/F(H2) = 10</tspan></text>
<text transform="translate(259.50,518.20)" font-family="'Liberation Sans', Arial, sans-serif" font-weight="normal" font-size="13.00" fill="#000" text-anchor="start"><tspan>-3</tspan></text>
<text transform="translate(91.80,551.90) scale(0.9406,1)" font-family="'Liberation Sans', Arial, sans-serif" font-weight="bold" font-size="21.22" fill="#000" text-anchor="start"><tspan>P = 20 Torr</tspan></text>
<rect x="252.80" y="794.70" width="255.20" height="102.00" fill="#000" stroke="none" stroke-width="1"/>
<rect x="249.80" y="791.70" width="255.20" height="102.00" fill="#fff" stroke="#000" stroke-width="1.5"/>
<line x1="257.90" y1="808.80" x2="301.70" y2="808.80" stroke="#d01515" stroke-width="2"/>
<circle cx="279.50" cy="808.80" r="5.60" fill="#d01515"/>
<line x1="257.90" y1="836.40" x2="301.70" y2="836.40" stroke="#0000cc" stroke-width="2.6"/>
<rect x="273.30" y="830.20" width="12.40" height="12.40" fill="#0000cc" stroke="none" stroke-width="1"/>
<line x1="257.90" y1="869.30" x2="301.70" y2="869.30" stroke="#6e554c" stroke-width="2.6"/>
<polygon points="279.5,860.7 288.1,869.3 279.5,877.9 270.9,869.3" fill="#6e554c"/>
<text transform="translate(304.52,815.30) scale(0.9847,1)" font-family="'Liberation Sans', Arial, sans-serif" font-weight="bold" font-size="20.06" fill="#d01515" text-anchor="start"><tspan>No added HCl</tspan></text>
<text transform="translate(304.54,847.70) scale(0.9692,1)" font-family="'Liberation Sans', Arial, sans-serif" font-weight="bold" font-size="20.06" fill="#0000cc" text-anchor="start"><tspan>F(HCl)/F(H2) = 5x10</tspan></text>
<text transform="translate(483.50,837.50)" font-family="'Liberation Sans', Arial, sans-serif" font-weight="normal" font-size="12.50" fill="#0000cc" text-anchor="start"><tspan>-4</tspan></text>
<text transform="translate(304.53,881.00) scale(0.9746,1)" font-family="'Liberation Sans', Arial, sans-serif" font-weight="bold" font-size="20.06" fill="#6e554c" text-anchor="start"><tspan>F(HCl)/F(H2) = 10</tspan></text>
<text transform="translate(462.50,870.50)" font-family="'Liberation Sans', Arial, sans-serif" font-weight="normal" font-size="12.50" fill="#6e554c" text-anchor="start"><tspan>-3</tspan></text>
<text transform="translate(117.82,880.80) scale(1.0578,1)" font-family="Carlito, 'Liberation Sans', sans-serif" font-weight="bold" font-size="36.00" fill="#000" text-anchor="start"><tspan>(b)</tspan></text>
<line x1="608.20" y1="869.23" x2="1309.00" y2="869.23" stroke="#d9d9d9" stroke-width="1.2"/>
<line x1="608.20" y1="827.06" x2="1309.00" y2="827.06" stroke="#d9d9d9" stroke-width="1.2"/>
<line x1="608.20" y1="784.89" x2="1309.00" y2="784.89" stroke="#d9d9d9" stroke-width="1.2"/>
<line x1="608.20" y1="742.72" x2="1309.00" y2="742.72" stroke="#d9d9d9" stroke-width="1.2"/>
<line x1="608.20" y1="700.55" x2="1309.00" y2="700.55" stroke="#d9d9d9" stroke-width="1.2"/>
<line x1="608.20" y1="658.38" x2="1309.00" y2="658.38" stroke="#d9d9d9" stroke-width="1.2"/>
<line x1="608.20" y1="616.21" x2="1309.00" y2="616.21" stroke="#d9d9d9" stroke-width="1.2"/>
<line x1="608.20" y1="574.04" x2="1309.00" y2="574.04" stroke="#d9d9d9" stroke-width="1.2"/>
<line x1="608.20" y1="531.87" x2="1309.00" y2="531.87" stroke="#d9d9d9" stroke-width="1.2"/>
<line x1="608.20" y1="489.70" x2="1309.00" y2="489.70" stroke="#d9d9d9" stroke-width="1.2"/>
<line x1="678.29" y1="489.70" x2="678.29" y2="911.40" stroke="#d9d9d9" stroke-width="1.2"/>
<line x1="748.38" y1="489.70" x2="748.38" y2="911.40" stroke="#d9d9d9" stroke-width="1.2"/>
<line x1="818.47" y1="489.70" x2="818.47" y2="911.40" stroke="#d9d9d9" stroke-width="1.2"/>
<line x1="888.56" y1="489.70" x2="888.56" y2="911.40" stroke="#d9d9d9" stroke-width="1.2"/>
<line x1="958.65" y1="489.70" x2="958.65" y2="911.40" stroke="#d9d9d9" stroke-width="1.2"/>
<line x1="1028.74" y1="489.70" x2="1028.74" y2="911.40" stroke="#d9d9d9" stroke-width="1.2"/>
<line x1="1098.83" y1="489.70" x2="1098.83" y2="911.40" stroke="#d9d9d9" stroke-width="1.2"/>
<line x1="1168.92" y1="489.70" x2="1168.92" y2="911.40" stroke="#d9d9d9" stroke-width="1.2"/>
<line x1="1239.01" y1="489.70" x2="1239.01" y2="911.40" stroke="#d9d9d9" stroke-width="1.2"/>
<line x1="608.20" y1="489.70" x2="608.20" y2="911.40" stroke="#bfbfbf" stroke-width="1.3"/>
<line x1="608.20" y1="911.40" x2="1309.00" y2="911.40" stroke="#bfbfbf" stroke-width="1.3"/>
<line x1="1309.00" y1="489.70" x2="1309.00" y2="911.40" stroke="#bfbfbf" stroke-width="1.3"/>
<line x1="1309.00" y1="912.00" x2="1314.00" y2="912.00" stroke="#bfbfbf" stroke-width="1.2"/>
<line x1="1309.00" y1="841.70" x2="1314.00" y2="841.70" stroke="#bfbfbf" stroke-width="1.2"/>
<line x1="1309.00" y1="771.40" x2="1314.00" y2="771.40" stroke="#bfbfbf" stroke-width="1.2"/>
<line x1="1309.00" y1="701.10" x2="1314.00" y2="701.10" stroke="#bfbfbf" stroke-width="1.2"/>
<line x1="1309.00" y1="630.80" x2="1314.00" y2="630.80" stroke="#bfbfbf" stroke-width="1.2"/>
<line x1="1309.00" y1="560.50" x2="1314.00" y2="560.50" stroke="#bfbfbf" stroke-width="1.2"/>
<line x1="1309.00" y1="490.20" x2="1314.00" y2="490.20" stroke="#bfbfbf" stroke-width="1.2"/>
<text transform="translate(592.90,916.30)" font-family="Carlito, 'Liberation Sans', sans-serif" font-weight="normal" font-size="14.90" fill="#404040" text-anchor="end"><tspan>0</tspan></text>
<text transform="translate(592.90,874.13)" font-family="Carlito, 'Liberation Sans', sans-serif" font-weight="normal" font-size="14.90" fill="#404040" text-anchor="end"><tspan>10</tspan></text>
<text transform="translate(592.90,831.96)" font-family="Carlito, 'Liberation Sans', sans-serif" font-weight="normal" font-size="14.90" fill="#404040" text-anchor="end"><tspan>20</tspan></text>
<text transform="translate(592.90,789.79)" font-family="Carlito, 'Liberation Sans', sans-serif" font-weight="normal" font-size="14.90" fill="#404040" text-anchor="end"><tspan>30</tspan></text>
<text transform="translate(592.90,747.62)" font-family="Carlito, 'Liberation Sans', sans-serif" font-weight="normal" font-size="14.90" fill="#404040" text-anchor="end"><tspan>40</tspan></text>
<text transform="translate(592.90,705.45)" font-family="Carlito, 'Liberation Sans', sans-serif" font-weight="normal" font-size="14.90" fill="#404040" text-anchor="end"><tspan>50</tspan></text>
<text transform="translate(592.90,663.28)" font-family="Carlito, 'Liberation Sans', sans-serif" font-weight="normal" font-size="14.90" fill="#404040" text-anchor="end"><tspan>60</tspan></text>
<text transform="translate(592.90,621.11)" font-family="Carlito, 'Liberation Sans', sans-serif" font-weight="normal" font-size="14.90" fill="#404040" text-anchor="end"><tspan>70</tspan></text>
<text transform="translate(592.90,578.94)" font-family="Carlito, 'Liberation Sans', sans-serif" font-weight="normal" font-size="14.90" fill="#404040" text-anchor="end"><tspan>80</tspan></text>
<text transform="translate(592.90,536.77)" font-family="Carlito, 'Liberation Sans', sans-serif" font-weight="normal" font-size="14.90" fill="#404040" text-anchor="end"><tspan>90</tspan></text>
<text transform="translate(592.90,494.60)" font-family="Carlito, 'Liberation Sans', sans-serif" font-weight="normal" font-size="14.90" fill="#404040" text-anchor="end"><tspan>100</tspan></text>
<text transform="translate(608.20,936.90)" font-family="Carlito, 'Liberation Sans', sans-serif" font-weight="normal" font-size="14.90" fill="#404040" text-anchor="middle"><tspan>0</tspan></text>
<text transform="translate(678.29,936.90)" font-family="Carlito, 'Liberation Sans', sans-serif" font-weight="normal" font-size="14.90" fill="#404040" text-anchor="middle"><tspan>20</tspan></text>
<text transform="translate(748.38,936.90)" font-family="Carlito, 'Liberation Sans', sans-serif" font-weight="normal" font-size="14.90" fill="#404040" text-anchor="middle"><tspan>40</tspan></text>
<text transform="translate(818.47,936.90)" font-family="Carlito, 'Liberation Sans', sans-serif" font-weight="normal" font-size="14.90" fill="#404040" text-anchor="middle"><tspan>60</tspan></text>
<text transform="translate(888.56,936.90)" font-family="Carlito, 'Liberation Sans', sans-serif" font-weight="normal" font-size="14.90" fill="#404040" text-anchor="middle"><tspan>80</tspan></text>
<text transform="translate(958.65,936.90)" font-family="Carlito, 'Liberation Sans', sans-serif" font-weight="normal" font-size="14.90" fill="#404040" text-anchor="middle"><tspan>100</tspan></text>
<text transform="translate(1028.74,936.90)" font-family="Carlito, 'Liberation Sans', sans-serif" font-weight="normal" font-size="14.90" fill="#404040" text-anchor="middle"><tspan>120</tspan></text>
<text transform="translate(1098.83,936.90)" font-family="Carlito, 'Liberation Sans', sans-serif" font-weight="normal" font-size="14.90" fill="#404040" text-anchor="middle"><tspan>140</tspan></text>
<text transform="translate(1168.92,936.90)" font-family="Carlito, 'Liberation Sans', sans-serif" font-weight="normal" font-size="14.90" fill="#404040" text-anchor="middle"><tspan>160</tspan></text>
<text transform="translate(1239.01,936.90)" font-family="Carlito, 'Liberation Sans', sans-serif" font-weight="normal" font-size="14.90" fill="#404040" text-anchor="middle"><tspan>180</tspan></text>
<text transform="translate(1309.10,936.90)" font-family="Carlito, 'Liberation Sans', sans-serif" font-weight="normal" font-size="14.90" fill="#404040" text-anchor="middle"><tspan>200</tspan></text>
<text transform="translate(1320.00,916.90)" font-family="Carlito, 'Liberation Sans', sans-serif" font-weight="normal" font-size="14.90" fill="#404040" text-anchor="start"><tspan>-2</tspan></text>
<text transform="translate(1320.00,846.60)" font-family="Carlito, 'Liberation Sans', sans-serif" font-weight="normal" font-size="14.90" fill="#404040" text-anchor="start"><tspan>-1</tspan></text>
<text transform="translate(1322.30,776.30)" font-family="Carlito, 'Liberation Sans', sans-serif" font-weight="normal" font-size="14.90" fill="#404040" text-anchor="start"><tspan>0</tspan></text>
<text transform="translate(1322.30,706.00)" font-family="Carlito, 'Liberation Sans', sans-serif" font-weight="normal" font-size="14.90" fill="#404040" text-anchor="start"><tspan>1</tspan></text>
<text transform="translate(1322.30,635.70)" font-family="Carlito, 'Liberation Sans', sans-serif" font-weight="normal" font-size="14.90" fill="#404040" text-anchor="start"><tspan>2</tspan></text>
<text transform="translate(1322.30,565.40)" font-family="Carlito, 'Liberation Sans', sans-serif" font-weight="normal" font-size="14.90" fill="#404040" text-anchor="start"><tspan>3</tspan></text>
<text transform="translate(1322.30,495.10)" font-family="Carlito, 'Liberation Sans', sans-serif" font-weight="normal" font-size="14.90" fill="#404040" text-anchor="start"><tspan>4</tspan></text>
<text transform="translate(915.28,958.30) scale(1.0266,1)" font-family="Carlito, 'Liberation Sans', sans-serif" font-weight="normal" font-size="15.60" fill="#404040" text-anchor="start"><tspan>Position (nm)</tspan></text>
<text transform="translate(562.00,810.94) rotate(-90) scale(1.0143,1)" font-family="'Liberation Sans', Arial, sans-serif" font-weight="normal" font-size="20.50" fill="#000" text-anchor="start"><tspan>Concentration (at. %)</tspan></text>
<text transform="translate(1362.40,781.29) rotate(-90) scale(1.0206,1)" font-family="'Liberation Sans', Arial, sans-serif" font-weight="normal" font-size="19.50" fill="#000" text-anchor="start"><tspan>Deformation (%)</tspan></text>
<defs><linearGradient id="ins1" x1="0" y1="0" x2="1" y2="0"><stop offset="0" stop-color="#8e4c0a"/><stop offset="0.17" stop-color="#8a4f0b"/><stop offset="0.22" stop-color="#84530c"/><stop offset="0.45" stop-color="#776010"/><stop offset="0.58" stop-color="#6e680e"/><stop offset="0.70" stop-color="#6c680e"/><stop offset="0.82" stop-color="#7a5c0c"/><stop offset="0.89" stop-color="#8a4f0a"/><stop offset="0.895" stop-color="#7a5c06"/><stop offset="1" stop-color="#7a5c06"/></linearGradient><linearGradient id="ins2" x1="0" y1="0" x2="1" y2="0"><stop offset="0" stop-color="#7e5808"/><stop offset="0.3" stop-color="#765e0a"/><stop offset="0.5" stop-color="#6e660c"/><stop offset="0.7" stop-color="#755f0a"/><stop offset="0.89" stop-color="#7e5808"/><stop offset="0.895" stop-color="#7a5c06"/><stop offset="1" stop-color="#7a5c06"/></linearGradient></defs>
<rect x="864.10" y="598.10" width="175.70" height="76.50" fill="url(#ins1)" stroke="none" stroke-width="1"/>
<rect x="895.40" y="598.10" width="5.30" height="76.50" fill="#d23a0e" stroke="none" stroke-width="1"/>
<rect x="968.50" y="598.10" width="14.90" height="76.50" fill="#ff3c00" stroke="none" stroke-width="1"/>
<rect x="970.30" y="598.10" width="11.30" height="76.50" fill="#ffd21e" stroke="none" stroke-width="1"/>
<rect x="972.50" y="598.10" width="6.50" height="76.50" fill="#ffff50" stroke="none" stroke-width="1"/>
<line x1="1021.80" y1="598.10" x2="1021.80" y2="674.60" stroke="#f4f4e0" stroke-width="1.2"/>
<rect x="864.10" y="680.40" width="175.70" height="78.40" fill="url(#ins2)" stroke="none" stroke-width="1"/>
<line x1="1022.60" y1="680.40" x2="1022.60" y2="758.80" stroke="#f4f4e0" stroke-width="1.2"/>
<text transform="translate(916.70,641.20)" font-family="Carlito, 'Liberation Sans', sans-serif" font-weight="normal" font-size="20.00" fill="#fff" text-anchor="start"><tspan>ε</tspan><tspan dy="4.40" font-size="13.20">&lt;002&gt;</tspan></text>
<text transform="translate(941.90,721.60)" font-family="Carlito, 'Liberation Sans', sans-serif" font-weight="normal" font-size="20.00" fill="#fff" text-anchor="start"><tspan>ε</tspan><tspan dy="4.40" font-size="13.20">&lt;220&gt;</tspan></text>
<polyline points="608.2,771.6 611.2,771.6 614.2,771.6 617.2,771.6 620.2,771.6 623.2,771.6 626.2,771.6 629.2,771.6 632.2,771.6 635.2,771.6 638.2,771.6 641.2,771.6 644.2,771.6 647.2,771.6 650.2,771.6 653.2,771.6 656.2,771.6 659.2,771.6 662.2,771.6 665.2,771.6 668.2,771.6 671.2,771.6 674.2,771.6 677.2,771.6 680.2,771.6 683.2,771.6 686.2,771.6 689.2,771.6 692.2,771.6 695.2,771.6 698.2,771.6 701.2,771.6 704.2,771.6 707.2,771.6 710.2,771.6 713.2,771.6 716.2,771.6 719.2,771.6 722.2,771.6 725.2,771.6 728.2,771.6 731.2,771.6 734.2,771.6 737.2,771.6 740.2,771.6 743.2,771.6 746.2,771.6 749.2,771.6 752.2,771.6 755.2,771.6 758.2,771.6 761.2,771.6 764.2,771.6 767.2,771.6 770.2,771.6 773.2,771.6 776.2,771.6 779.2,771.6 782.2,771.6 785.2,771.6 788.2,771.6 791.2,771.6 794.2,771.6 797.2,771.6 800.2,771.6 803.2,771.6 806.2,771.6 809.2,771.6 812.2,771.6 815.2,771.6 818.2,771.6 821.2,771.6 824.2,771.6 827.2,771.6 830.2,771.6 833.2,771.6 836.2,771.6 839.2,771.6 842.2,771.6 845.2,771.6 848.2,771.6 851.2,771.6 854.2,771.6 857.2,771.6 860.2,771.6 863.2,771.6 866.2,771.6 869.2,771.6 872.2,771.6 875.2,771.6 878.2,771.6 881.2,771.6 884.2,771.6 887.2,771.6 890.2,771.6 893.2,771.6 896.2,771.6 899.2,771.6 902.2,771.6 905.2,771.6 908.2,771.6 911.2,771.6 914.2,771.6 917.2,771.6 920.2,771.6 923.2,771.6 926.2,771.6 929.2,771.6 932.2,771.6 935.2,771.6 938.2,771.6 941.2,771.6 944.2,771.6 947.2,771.6 950.2,771.6 953.2,771.6 956.2,771.6 959.2,771.6 962.2,771.6 965.2,771.6 968.2,771.6 971.2,771.6 974.2,771.6 977.2,771.6 980.2,771.6 983.2,771.6 986.2,771.6 989.2,771.6 992.2,771.6 995.2,771.6 998.2,771.6 1001.2,771.6 1004.2,771.6 1007.2,771.6 1010.2,771.6 1013.2,771.6 1016.2,771.6 1019.2,771.6 1022.2,771.6 1025.2,771.6 1028.2,771.6 1031.2,771.6 1034.2,771.6 1037.2,771.6 1040.2,771.6 1043.2,771.6 1046.2,771.6 1049.2,771.6 1052.2,771.6 1055.2,771.6 1058.2,771.6 1061.2,771.6 1064.2,771.6 1067.2,771.6 1070.2,771.6 1073.2,771.6 1076.2,771.6 1079.2,771.6 1082.2,771.6 1085.2,771.6 1088.2,771.6 1091.2,771.6 1094.2,771.6 1097.2,771.9 1100.2,772.2 1103.2,772.5 1106.2,772.9 1109.2,772.9 1112.2,772.5 1115.2,772.0 1118.2,771.6 1121.2,771.0 1124.2,770.4 1127.2,769.8 1130.2,769.6 1133.2,769.7 1136.2,769.8 1139.2,769.9 1142.2,769.9 1145.2,770.0 1148.2,770.1 1151.2,770.5 1154.2,771.4 1157.2,772.3 1160.2,773.1 1163.2,772.6 1166.2,772.2 1169.2,771.7 1172.2,771.6 1175.2,771.6 1178.2,771.6 1181.2,771.6 1184.2,771.6 1187.2,771.6 1190.2,771.6 1193.2,771.6 1196.2,771.6 1199.2,771.6 1202.2,771.6 1205.2,771.6 1208.2,771.6 1211.2,771.6 1214.2,771.6 1217.2,771.6 1220.2,771.6 1223.2,771.6 1226.2,771.6 1229.2,771.6 1232.2,771.6 1235.2,771.6 1238.2,771.6 1241.2,771.6 1244.2,771.6 1247.2,771.6 1250.2,771.6 1253.2,771.6 1256.2,771.6 1259.2,771.6 1262.2,771.6 1265.2,771.6 1268.2,771.6 1271.2,771.6 1274.2,771.6 1277.2,771.6 1280.2,771.6 1283.2,771.6 1286.2,771.6 1289.2,771.6 1292.2,771.6 1295.2,771.6 1298.2,771.6 1301.2,771.6 1304.2,771.6 1307.2,771.6" fill="none" stroke="#8c8c8c" stroke-width="1.4" stroke-linejoin="round"/>
<polyline points="608.2,767.4 610.2,767.6 612.2,767.7 614.2,767.8 616.2,767.5 618.2,767.7 620.2,767.4 622.2,767.5 624.2,767.4 626.2,767.9 628.2,767.6 630.2,767.5 632.2,767.6 634.2,767.6 636.2,767.8 638.2,767.3 640.2,767.4 642.2,767.6 644.2,768.3 646.2,767.9 648.2,767.7 650.2,767.9 652.2,768.2 654.2,767.6 656.2,767.6 658.2,768.0 660.2,767.8 662.2,767.9 664.2,767.6 666.2,768.2 668.2,768.2 670.2,767.9 672.2,767.9 674.2,767.2 676.2,767.9 678.2,767.7 680.2,767.9 682.2,767.9 684.2,767.7 686.2,767.3 688.2,767.9 690.2,767.6 692.2,767.7 694.2,767.6 696.2,767.7 698.2,767.2 700.2,768.1 702.2,767.8 704.2,768.0 706.2,768.2 708.2,767.7 710.2,767.2 712.2,767.4 714.2,767.3 716.2,767.4 718.2,767.5 720.2,767.0 722.2,767.5 724.2,767.0 726.2,767.4 728.2,767.3 730.2,767.2 732.2,767.2 734.2,767.1 736.2,766.7 738.2,765.9 740.2,765.8 742.2,765.7 744.2,765.2 746.2,763.5 748.2,761.2 750.2,758.8 752.2,757.2 754.2,755.0 756.2,753.3 758.2,753.3 760.2,754.8 762.2,756.2 764.2,758.9 766.2,761.3 768.2,764.0 770.2,765.8 772.2,766.4 774.2,767.5 776.2,768.1 778.2,768.2 780.2,767.7 782.2,768.0 784.2,768.3 786.2,768.1 788.2,768.1 790.2,768.5 792.2,767.9 794.2,768.1 796.2,768.0 798.2,768.5 800.2,767.6 802.2,768.0 804.2,768.0 806.2,768.3 808.2,768.3 810.2,768.5 812.2,767.8 814.2,768.4 816.2,768.1 818.2,768.0 820.2,768.3 822.2,768.0 824.2,767.7 826.2,768.1 828.2,767.9 830.2,768.1 832.2,768.3 834.2,768.3 836.2,768.7 838.2,768.2 840.2,767.9 842.2,768.1 844.2,768.1 846.2,768.0 848.2,768.4 850.2,768.2 852.2,767.8 854.2,768.5 856.2,768.3 858.2,768.4 860.2,768.4 862.2,768.5 864.2,768.4 866.2,768.7 868.2,768.5 870.2,768.5 872.2,768.5 874.2,768.1 876.2,768.4 878.2,768.4 880.2,768.5 882.2,768.1 884.2,768.9 886.2,768.5 888.2,768.2 890.2,768.1 892.2,768.4 894.2,768.5 896.2,768.3 898.2,768.6 900.2,768.4 902.2,768.7 904.2,768.4 906.2,768.6 908.2,768.8 910.2,769.2 912.2,768.3 914.2,768.5 916.2,768.4 918.2,768.8 920.2,768.3 922.2,768.5 924.2,768.6 926.2,768.4 928.2,768.4 930.2,768.6 932.2,768.2 934.2,768.3 936.2,768.6 938.2,768.7 940.2,768.7 942.2,768.3 944.2,768.6 946.2,768.9 948.2,768.9 950.2,768.7 952.2,768.5 954.2,768.9 956.2,768.6 958.2,768.5 960.2,768.6 962.2,769.2 964.2,769.0 966.2,769.3 968.2,769.0 970.2,769.4 972.2,769.1 974.2,769.3 976.2,770.0 978.2,769.6 980.2,769.4 982.2,769.6 984.2,769.7 986.2,770.0 988.2,769.7 990.2,769.4 992.2,769.9 994.2,770.0 996.2,770.1 998.2,770.5 1000.2,770.3 1002.2,770.5 1004.2,770.2 1006.2,770.8 1008.2,771.2 1010.2,771.0 1012.2,771.0 1014.2,771.1 1016.2,771.6 1018.2,771.0 1020.2,771.3 1022.2,771.6 1024.2,771.8 1026.2,771.6 1028.2,771.9 1030.2,771.9 1032.2,772.1 1034.2,772.1 1036.2,772.0 1038.2,772.4 1040.2,772.7 1042.2,772.3 1044.2,772.6 1046.2,772.8 1048.2,772.5 1050.2,772.8 1052.2,772.6 1054.2,773.2 1056.2,773.5 1058.2,773.5 1060.2,773.0 1062.2,773.3 1064.2,773.2 1066.2,773.3 1068.2,773.7 1070.2,773.0 1072.2,773.7 1074.2,773.5 1076.2,773.9 1078.2,773.7 1080.2,773.5 1082.2,773.8 1084.2,774.0 1086.2,773.2 1088.2,772.4 1090.2,771.2 1092.2,767.8 1094.2,764.0 1096.2,756.4 1098.2,746.7 1100.2,736.9 1102.2,725.6 1104.2,714.1 1106.2,706.6 1108.2,699.3 1110.2,693.3 1112.2,686.2 1114.2,682.1 1116.2,677.9 1118.2,674.1 1120.2,671.2 1122.2,669.2 1124.2,667.3 1126.2,665.9 1128.2,664.7 1130.2,664.2 1132.2,663.3 1134.2,663.1 1136.2,662.6 1138.2,661.9 1140.2,662.6 1142.2,663.0 1144.2,663.4 1146.2,664.0 1148.2,665.9 1150.2,667.6 1152.2,669.2 1154.2,672.3 1156.2,676.7 1158.2,680.5 1160.2,685.5 1162.2,691.1 1164.2,696.5 1166.2,704.6 1168.2,715.2 1170.2,727.7 1172.2,739.9 1174.2,752.3 1176.2,763.1 1178.2,769.1 1180.2,771.6 1182.2,773.2 1184.2,774.2 1186.2,773.8 1188.2,773.2 1190.2,773.0 1192.2,772.7 1194.2,772.3 1196.2,772.5 1198.2,771.5 1200.2,772.1 1202.2,771.6 1204.2,772.0 1206.2,771.6 1208.2,771.3 1210.2,771.5 1212.2,771.0 1214.2,770.9 1216.2,770.6 1218.2,770.9 1220.2,770.9 1222.2,770.9 1224.2,770.5 1226.2,770.6 1228.2,770.2 1230.2,770.1 1232.2,770.1 1234.2,770.1 1236.2,769.7 1238.2,769.6 1240.2,769.5 1242.2,769.5 1244.2,769.2 1246.2,769.6 1248.2,769.2 1250.2,769.4 1252.2,769.0 1254.2,769.3 1256.2,769.2 1258.2,769.0 1260.2,769.6 1262.2,769.1 1264.2,769.4 1266.2,769.2 1268.2,768.7 1270.2,768.7 1272.2,768.9 1274.2,768.8 1276.2,768.7 1278.2,768.6 1280.2,768.2 1282.2,768.5 1284.2,768.0 1286.2,768.6 1288.2,768.3 1290.2,768.2 1292.2,768.3 1294.2,768.4 1296.2,767.9 1298.2,767.8 1300.2,767.9 1302.2,767.6 1304.2,767.9 1306.2,768.5 1308.2,767.8" fill="none" stroke="#e8b028" stroke-width="1.7" stroke-linejoin="round"/>
<polyline points="608.2,577.9 610.6,577.9 610.6,578.4 613.0,578.4 613.0,576.9 615.4,576.9 615.4,576.9 617.8,576.9 617.8,576.8 620.2,576.8 620.2,575.9 622.6,575.9 622.6,576.0 625.0,576.0 625.0,576.0 627.4,576.0 627.4,576.0 629.8,576.0 629.8,576.9 632.2,576.9 632.2,578.3 634.6,578.3 634.6,578.3 637.0,578.3 637.0,578.3 639.4,578.3 639.4,578.3 641.8,578.3 641.8,576.9 644.2,576.9 644.2,576.9 646.6,576.9 646.6,576.9 649.0,576.9 649.0,576.3 651.4,576.3 651.4,576.3 653.8,576.3 653.8,575.7 656.2,575.7 656.2,575.7 658.6,575.7 658.6,575.7 661.0,575.7 661.0,576.8 663.4,576.8 663.4,576.8 665.8,576.8 665.8,576.1 668.2,576.1 668.2,576.1 670.6,576.1 670.6,576.0 673.0,576.0 673.0,576.0 675.4,576.0 675.4,576.7 677.8,576.7 677.8,576.7 680.2,576.7 680.2,576.7 682.6,576.7 682.6,576.7 685.0,576.7 685.0,575.2 687.4,575.2 687.4,575.2 689.8,575.2 689.8,575.2 692.2,575.2 692.2,575.2 694.6,575.2 694.6,576.0 697.0,576.0 697.0,575.1 699.4,575.1 699.4,574.5 701.8,574.5 701.8,574.5 704.2,574.5 704.2,574.5 706.6,574.5 706.6,574.5 709.0,574.5 709.0,574.6 711.4,574.6 711.4,574.6 713.8,574.6 713.8,573.4 716.2,573.4 716.2,573.4 718.6,573.4 718.6,573.4 721.0,573.4 721.0,574.7 723.4,574.7 723.4,574.6 725.8,574.6 725.8,574.6 728.2,574.6 728.2,574.6 730.6,574.6 730.6,574.9 733.0,574.9 733.0,574.8 735.4,574.8 735.4,574.8 737.8,574.8 737.8,574.8 740.2,574.8 740.2,574.2 742.6,574.2 742.6,572.8 745.0,572.8 745.0,572.9 747.4,572.9 747.4,570.2 749.8,570.2 749.8,566.6 752.2,566.6 752.2,560.4 754.6,560.4 754.6,557.3 757.0,557.3 757.0,557.5 759.4,557.5 759.4,559.3 761.8,559.3 761.8,562.9 764.2,562.9 764.2,568.5 766.6,568.5 766.6,573.0 769.0,573.0 769.0,575.6 771.4,575.6 771.4,575.6 773.8,575.6 773.8,574.8 776.2,574.8 776.2,574.8 778.6,574.8 778.6,574.8 781.0,574.8 781.0,575.1 783.4,575.1 783.4,575.1 785.8,575.1 785.8,575.1 788.2,575.1 788.2,575.1 790.6,575.1 790.6,575.1 793.0,575.1 793.0,573.3 795.4,573.3 795.4,573.3 797.8,573.3 797.8,573.3 800.2,573.3 800.2,573.3 802.6,573.3 802.6,572.0 805.0,572.0 805.0,572.0 807.4,572.0 807.4,572.0 809.8,572.0 809.8,573.6 812.2,573.6 812.2,573.6 814.6,573.6 814.6,573.6 817.0,573.6 817.0,573.3 819.4,573.3 819.4,573.3 821.8,573.3 821.8,575.7 824.2,575.7 824.2,575.8 826.6,575.8 826.6,575.9 829.0,575.9 829.0,575.9 831.4,575.9 831.4,575.9 833.8,575.9 833.8,575.7 836.2,575.7 836.2,575.7 838.6,575.7 838.6,575.7 841.0,575.7 841.0,573.6 843.4,573.6 843.4,574.9 845.8,574.9 845.8,575.0 848.2,575.0 848.2,575.0 850.6,575.0 850.6,575.0 853.0,575.0 853.0,572.8 855.4,572.8 855.4,572.8 857.8,572.8 857.8,572.8 860.2,572.8 860.2,572.8 862.6,572.8 862.6,574.3 865.0,574.3 865.0,574.3 867.4,574.3 867.4,575.5 869.8,575.5 869.8,575.5 872.2,575.5 872.2,574.6 874.6,574.6 874.6,575.1 877.0,575.1 877.0,575.1 879.4,575.1 879.4,574.0 881.8,574.0 881.8,574.3 884.2,574.3 884.2,575.2 886.6,575.2 886.6,575.2 889.0,575.2 889.0,575.2 891.4,575.2 891.4,576.3 893.8,576.3 893.8,576.3 896.2,576.3 896.2,576.2 898.6,576.2 898.6,576.2 901.0,576.2 901.0,576.2 903.4,576.2 903.4,576.2 905.8,576.2 905.8,576.2 908.2,576.2 908.2,576.3 910.6,576.3 910.6,576.3 913.0,576.3 913.0,577.0 915.4,577.0 915.4,574.1 917.8,574.1 917.8,574.1 920.2,574.1 920.2,574.1 922.6,574.1 922.6,575.6 925.0,575.6 925.0,575.6 927.4,575.6 927.4,575.2 929.8,575.2 929.8,573.9 932.2,573.9 932.2,573.9 934.6,573.9 934.6,573.1 937.0,573.1 937.0,573.1 939.4,573.1 939.4,574.8 941.8,574.8 941.8,574.8 944.2,574.8 944.2,574.8 946.6,574.8 946.6,574.8 949.0,574.8 949.0,573.1 951.4,573.1 951.4,573.1 953.8,573.1 953.8,573.1 956.2,573.1 956.2,573.1 958.6,573.1 958.6,573.9 961.0,573.9 961.0,573.9 963.4,573.9 963.4,574.8 965.8,574.8 965.8,576.7 968.2,576.7 968.2,573.8 970.6,573.8 970.6,573.9 973.0,573.9 973.0,573.9 975.4,573.9 975.4,573.9 977.8,573.9 977.8,573.9 980.2,573.9 980.2,576.4 982.6,576.4 982.6,576.2 985.0,576.2 985.0,576.2 987.4,576.2 987.4,576.2 989.8,576.2 989.8,576.0 992.2,576.0 992.2,576.0 994.6,576.0 994.6,576.0 997.0,576.0 997.0,575.5 999.4,575.5 999.4,575.6 1001.8,575.6 1001.8,575.6 1004.2,575.6 1004.2,575.6 1006.6,575.6 1006.6,574.5 1009.0,574.5 1009.0,575.4 1011.4,575.4 1011.4,575.2 1013.8,575.2 1013.8,575.2 1016.2,575.2 1016.2,575.2 1018.6,575.2 1018.6,575.0 1021.0,575.0 1021.0,575.0 1023.4,575.0 1023.4,575.0 1025.8,575.0 1025.8,575.0 1028.2,575.0 1028.2,574.6 1030.6,574.6 1030.6,576.4 1033.0,576.4 1033.0,576.4 1035.4,576.4 1035.4,574.1 1037.8,574.1 1037.8,576.3 1040.2,576.3 1040.2,578.2 1042.6,578.2 1042.6,578.2 1045.0,578.2 1045.0,578.2 1047.4,578.2 1047.4,578.2 1049.8,578.2 1049.8,576.7 1052.2,576.7 1052.2,574.3 1054.6,574.3 1054.6,576.4 1057.0,576.4 1057.0,574.9 1059.4,574.9 1059.4,574.4 1061.8,574.4 1061.8,574.4 1064.2,574.4 1064.2,574.4 1066.6,574.4 1066.6,574.0 1069.0,574.0 1069.0,574.0 1071.4,574.0 1071.4,574.0 1073.8,574.0 1073.8,574.5 1076.2,574.5 1076.2,575.2 1078.6,575.2 1078.6,576.6 1081.0,576.6 1081.0,576.6 1083.4,576.6 1083.4,577.0 1085.8,577.0 1085.8,575.7 1088.2,575.7 1088.2,573.1 1090.6,573.1 1090.6,572.8 1093.0,572.8 1093.0,572.8 1095.4,572.8 1095.4,572.5 1097.8,573.1 1100.2,558.6 1102.6,541.1 1105.0,528.3 1107.4,517.7 1109.8,508.7 1112.2,506.2 1114.6,503.2 1117.0,502.8 1119.4,502.4 1121.8,502.2 1124.2,501.9 1126.6,501.8 1129.0,501.8 1131.4,501.9 1133.8,502.1 1136.2,502.5 1138.6,502.6 1141.0,503.4 1143.4,503.5 1145.8,503.3 1148.2,503.6 1150.6,503.8 1153.0,506.8 1155.4,514.7 1157.8,524.2 1160.2,542.3 1162.6,558.5 1165.0,567.7 1167.4,573.9 1169.8,573.9 1169.8,575.5 1172.2,575.5 1172.2,576.9 1174.6,576.9 1174.6,575.2 1177.0,575.2 1177.0,576.7 1179.4,576.7 1179.4,577.1 1181.8,577.1 1181.8,577.5 1184.2,577.5 1184.2,577.9 1186.6,577.9 1186.6,580.2 1189.0,580.2 1189.0,580.8 1191.4,580.8 1191.4,581.2 1193.8,581.2 1193.8,580.3 1196.2,580.3 1196.2,580.5 1198.6,580.5 1198.6,580.3 1201.0,580.3 1201.0,582.6 1203.4,582.6 1203.4,582.4 1205.8,582.4 1205.8,582.3 1208.2,582.3 1208.2,583.0 1210.6,583.0 1210.6,582.8 1213.0,582.8 1213.0,582.7 1215.4,582.7 1215.4,582.8 1217.8,582.8 1217.8,583.7 1220.2,583.7 1220.2,583.8 1222.6,583.8 1222.6,583.9 1225.0,583.9 1225.0,582.4 1227.4,582.4 1227.4,582.5 1229.8,582.5 1229.8,582.0 1232.2,582.0 1232.2,582.1 1234.6,582.1 1234.6,582.0 1237.0,582.0 1237.0,582.1 1239.4,582.1 1239.4,582.3 1241.8,582.3 1241.8,581.9 1244.2,581.9 1244.2,582.0 1246.6,582.0 1246.6,582.1 1249.0,582.1 1249.0,580.1 1251.4,580.1 1251.4,580.2 1253.8,580.2 1253.8,580.9 1256.2,580.9 1256.2,581.0 1258.6,581.0 1258.6,581.7 1261.0,581.7 1261.0,581.4 1263.4,581.4 1263.4,581.5 1265.8,581.5 1265.8,581.5 1268.2,581.5 1268.2,582.8 1270.6,582.8 1270.6,582.8 1273.0,582.8 1273.0,582.8 1275.4,582.8 1275.4,582.8 1277.8,582.8 1277.8,582.8 1280.2,582.8 1280.2,582.8 1282.6,582.8 1282.6,582.8 1285.0,582.8 1285.0,582.5 1287.4,582.5 1287.4,582.5 1289.8,582.5 1289.8,582.4 1292.2,582.4 1292.2,581.5 1294.6,581.5 1294.6,581.4 1297.0,581.4 1297.0,581.3 1299.4,581.3 1299.4,581.1 1301.8,581.1 1301.8,580.6 1304.2,580.6 1304.2,580.5 1306.6,580.5 1306.6,581.2" fill="none" stroke="#d4702c" stroke-width="1.5" stroke-linejoin="round"/>
<polyline points="608.2,827.8 610.6,827.8 610.6,827.8 613.0,827.8 613.0,824.7 615.4,824.7 615.4,824.7 617.8,824.7 617.8,824.7 620.2,824.7 620.2,824.7 622.6,824.7 622.6,825.3 625.0,825.3 625.0,825.3 627.4,825.3 627.4,824.7 629.8,824.7 629.8,824.1 632.2,824.1 632.2,824.9 634.6,824.9 634.6,824.9 637.0,824.9 637.0,826.2 639.4,826.2 639.4,826.2 641.8,826.2 641.8,826.2 644.2,826.2 644.2,826.2 646.6,826.2 646.6,826.9 649.0,826.9 649.0,826.9 651.4,826.9 651.4,826.9 653.8,826.9 653.8,824.5 656.2,824.5 656.2,824.5 658.6,824.5 658.6,824.5 661.0,824.5 661.0,827.2 663.4,827.2 663.4,827.2 665.8,827.2 665.8,827.2 668.2,827.2 668.2,827.2 670.6,827.2 670.6,829.2 673.0,829.2 673.0,829.2 675.4,829.2 675.4,828.9 677.8,828.9 677.8,828.9 680.2,828.9 680.2,828.9 682.6,828.9 682.6,828.8 685.0,828.8 685.0,828.8 687.4,828.8 687.4,828.0 689.8,828.0 689.8,828.0 692.2,828.0 692.2,828.0 694.6,828.0 694.6,828.0 697.0,828.0 697.0,825.9 699.4,825.9 699.4,826.0 701.8,826.0 701.8,826.0 704.2,826.0 704.2,826.0 706.6,826.0 706.6,827.1 709.0,827.1 709.0,827.1 711.4,827.1 711.4,827.1 713.8,827.1 713.8,827.1 716.2,827.1 716.2,826.6 718.6,826.6 718.6,826.6 721.0,826.6 721.0,825.4 723.4,825.4 723.4,825.4 725.8,825.4 725.8,825.4 728.2,825.4 728.2,825.4 730.6,825.4 730.6,826.3 733.0,826.3 733.0,826.3 735.4,826.3 735.4,826.3 737.8,826.3 737.8,825.1 740.2,825.1 740.2,824.2 742.6,824.2 742.6,825.1 745.0,825.1 745.0,826.0 747.4,826.0 747.4,826.9 749.8,826.9 749.8,831.5 752.2,831.5 752.2,835.5 754.6,835.5 754.6,842.0 757.0,842.0 757.0,843.2 759.4,843.2 759.4,841.0 761.8,841.0 761.8,837.4 764.2,837.4 764.2,832.7 766.6,832.7 766.6,828.5 769.0,828.5 769.0,826.9 771.4,826.9 771.4,826.2 773.8,826.2 773.8,826.2 776.2,826.2 776.2,827.2 778.6,827.2 778.6,827.2 781.0,827.2 781.0,827.6 783.4,827.6 783.4,827.6 785.8,827.6 785.8,827.6 788.2,827.6 788.2,825.4 790.6,825.4 790.6,825.4 793.0,825.4 793.0,825.4 795.4,825.4 795.4,825.4 797.8,825.4 797.8,824.1 800.2,824.1 800.2,824.1 802.6,824.1 802.6,824.1 805.0,824.1 805.0,824.1 807.4,824.1 807.4,825.0 809.8,825.0 809.8,825.0 812.2,825.0 812.2,825.3 814.6,825.3 814.6,825.3 817.0,825.3 817.0,825.3 819.4,825.3 819.4,825.3 821.8,825.3 821.8,825.3 824.2,825.3 824.2,825.3 826.6,825.3 826.6,827.3 829.0,827.3 829.0,827.3 831.4,827.3 831.4,827.3 833.8,827.3 833.8,825.1 836.2,825.1 836.2,825.1 838.6,825.1 838.6,825.1 841.0,825.1 841.0,825.1 843.4,825.1 843.4,823.5 845.8,823.5 845.8,823.4 848.2,823.4 848.2,823.9 850.6,823.9 850.6,823.9 853.0,823.9 853.0,823.9 855.4,823.9 855.4,825.1 857.8,825.1 857.8,824.3 860.2,824.3 860.2,825.2 862.6,825.2 862.6,825.2 865.0,825.2 865.0,824.7 867.4,824.7 867.4,824.7 869.8,824.7 869.8,826.1 872.2,826.1 872.2,827.1 874.6,827.1 874.6,827.1 877.0,827.1 877.0,827.1 879.4,827.1 879.4,826.4 881.8,826.4 881.8,826.1 884.2,826.1 884.2,826.1 886.6,826.1 886.6,825.3 889.0,825.3 889.0,825.3 891.4,825.3 891.4,824.3 893.8,824.3 893.8,824.3 896.2,824.3 896.2,824.3 898.6,824.3 898.6,825.0 901.0,825.0 901.0,825.0 903.4,825.0 903.4,825.3 905.8,825.3 905.8,825.3 908.2,825.3 908.2,826.2 910.6,826.2 910.6,826.2 913.0,826.2 913.0,827.7 915.4,827.7 915.4,827.7 917.8,827.7 917.8,827.7 920.2,827.7 920.2,827.7 922.6,827.7 922.6,826.1 925.0,826.1 925.0,826.1 927.4,826.1 927.4,826.1 929.8,826.1 929.8,826.1 932.2,826.1 932.2,826.2 934.6,826.2 934.6,826.2 937.0,826.2 937.0,826.1 939.4,826.1 939.4,826.1 941.8,826.1 941.8,827.4 944.2,827.4 944.2,827.4 946.6,827.4 946.6,827.4 949.0,827.4 949.0,827.4 951.4,827.4 951.4,827.6 953.8,827.6 953.8,827.6 956.2,827.6 956.2,827.6 958.6,827.6 958.6,826.4 961.0,826.4 961.0,826.4 963.4,826.4 963.4,826.9 965.8,826.9 965.8,826.9 968.2,826.9 968.2,826.9 970.6,826.9 970.6,826.8 973.0,826.8 973.0,825.9 975.4,825.9 975.4,825.9 977.8,825.9 977.8,825.9 980.2,825.9 980.2,825.9 982.6,825.9 982.6,826.9 985.0,826.9 985.0,826.9 987.4,826.9 987.4,826.9 989.8,826.9 989.8,826.9 992.2,826.9 992.2,825.8 994.6,825.8 994.6,825.8 997.0,825.8 997.0,825.8 999.4,825.8 999.4,825.8 1001.8,825.8 1001.8,826.8 1004.2,826.8 1004.2,826.6 1006.6,826.6 1006.6,826.5 1009.0,826.5 1009.0,826.5 1011.4,826.5 1011.4,826.5 1013.8,826.5 1013.8,825.9 1016.2,825.9 1016.2,825.4 1018.6,825.4 1018.6,825.4 1021.0,825.4 1021.0,825.4 1023.4,825.4 1023.4,823.2 1025.8,823.2 1025.8,823.2 1028.2,823.2 1028.2,823.2 1030.6,823.2 1030.6,824.1 1033.0,824.1 1033.0,824.1 1035.4,824.1 1035.4,824.1 1037.8,824.1 1037.8,824.1 1040.2,824.1 1040.2,826.6 1042.6,826.6 1042.6,826.6 1045.0,826.6 1045.0,826.6 1047.4,826.6 1047.4,824.7 1049.8,824.7 1049.8,824.7 1052.2,824.7 1052.2,824.7 1054.6,824.7 1054.6,824.7 1057.0,824.7 1057.0,823.5 1059.4,823.5 1059.4,823.5 1061.8,823.5 1061.8,823.5 1064.2,823.5 1064.2,823.5 1066.6,823.5 1066.6,824.9 1069.0,824.9 1069.0,824.9 1071.4,824.9 1071.4,827.3 1073.8,827.3 1073.8,827.3 1076.2,827.3 1076.2,826.8 1078.6,826.8 1078.6,826.8 1081.0,826.8 1081.0,826.8 1083.4,826.8 1083.4,827.2 1085.8,827.2 1085.8,826.2 1088.2,826.2 1088.2,826.2 1090.6,826.2 1090.6,825.9 1093.0,825.9 1093.0,825.9 1095.4,825.9 1095.4,827.4 1097.8,827.1 1100.2,836.1 1102.6,847.0 1105.0,856.9 1107.4,875.4 1109.8,890.1 1112.2,894.3 1114.6,899.0 1117.0,899.8 1119.4,900.0 1121.8,900.1 1124.2,900.2 1126.6,900.0 1129.0,900.1 1131.4,900.1 1133.8,900.2 1136.2,900.0 1138.6,899.6 1141.0,899.5 1143.4,899.3 1145.8,898.7 1148.2,896.9 1150.6,895.3 1153.0,887.4 1155.4,878.4 1157.8,866.7 1160.2,840.8 1162.6,831.8 1165.0,826.7 1167.4,825.1 1169.8,825.1 1169.8,824.2 1172.2,824.2 1172.2,822.8 1174.6,822.8 1174.6,822.6 1177.0,822.6 1177.0,822.3 1179.4,822.3 1179.4,822.0 1181.8,822.0 1181.8,820.4 1184.2,820.4 1184.2,820.8 1186.6,820.8 1186.6,820.5 1189.0,820.5 1189.0,820.0 1191.4,820.0 1191.4,819.1 1193.8,819.1 1193.8,819.1 1196.2,819.1 1196.2,819.7 1198.6,819.7 1198.6,819.1 1201.0,819.1 1201.0,819.1 1203.4,819.1 1203.4,818.7 1205.8,818.7 1205.8,818.7 1208.2,818.7 1208.2,818.7 1210.6,818.7 1210.6,818.7 1213.0,818.7 1213.0,819.8 1215.4,819.8 1215.4,819.8 1217.8,819.8 1217.8,820.5 1220.2,820.5 1220.2,820.5 1222.6,820.5 1222.6,820.5 1225.0,820.5 1225.0,819.2 1227.4,819.2 1227.4,818.1 1229.8,818.1 1229.8,818.2 1232.2,818.2 1232.2,818.2 1234.6,818.2 1234.6,818.2 1237.0,818.2 1237.0,818.7 1239.4,818.7 1239.4,818.7 1241.8,818.7 1241.8,818.7 1244.2,818.7 1244.2,820.4 1246.6,820.4 1246.6,820.4 1249.0,820.4 1249.0,819.2 1251.4,819.2 1251.4,817.9 1253.8,817.9 1253.8,817.9 1256.2,817.9 1256.2,817.9 1258.6,817.9 1258.6,818.1 1261.0,818.1 1261.0,818.1 1263.4,818.1 1263.4,818.1 1265.8,818.1 1265.8,818.1 1268.2,818.1 1268.2,819.5 1270.6,819.5 1270.6,819.5 1273.0,819.5 1273.0,818.5 1275.4,818.5 1275.4,818.5 1277.8,818.5 1277.8,818.5 1280.2,818.5 1280.2,818.5 1282.6,818.5 1282.6,818.2 1285.0,818.2 1285.0,818.2 1287.4,818.2 1287.4,819.9 1289.8,819.9 1289.8,819.9 1292.2,819.9 1292.2,818.8 1294.6,818.8 1294.6,819.7 1297.0,819.7 1297.0,819.7 1299.4,819.7 1299.4,819.5 1301.8,819.5 1301.8,819.5 1304.2,819.5 1304.2,819.6 1306.6,819.6 1306.6,820.0" fill="none" stroke="#3a78bd" stroke-width="1.6" stroke-linejoin="round"/>
<text transform="translate(676.71,540.60) scale(1.0250,1)" font-family="'Liberation Sans', Arial, sans-serif" font-weight="bold" font-size="19.33" fill="#000" text-anchor="start"><tspan>CMP</tspan></text>
<line x1="730.20" y1="533.70" x2="746.07" y2="547.47" stroke="#000" stroke-width="1.1"/>
<polygon points="750.6,551.4 743.3,549.1 747.3,544.5" fill="#000"/>
<text transform="translate(904.30,560.20) scale(0.9689,1)" font-family="'Liberation Sans', Arial, sans-serif" font-weight="bold" font-size="20.64" fill="#000" text-anchor="start"><tspan>Si</tspan><tspan dy="4.54" font-size="13.42">0.21</tspan><tspan dy="-4.54">Ge</tspan><tspan dy="4.54" font-size="13.42">0.79</tspan></text>
<text transform="translate(1161.00,508.20) scale(1.1279,1)" font-family="'Liberation Sans', Arial, sans-serif" font-weight="bold" font-size="17.73" fill="#e0691c" text-anchor="start"><tspan>Ge</tspan></text>
<text transform="translate(1080.20,627.50) scale(1.0714,1)" font-family="'Liberation Sans', Arial, sans-serif" font-weight="bold" font-size="18.60" fill="#ed9a2a" text-anchor="start"><tspan>Out-of-plane</tspan></text>
<text transform="translate(1064.68,653.50) scale(1.0954,1)" font-family="'Liberation Sans', Arial, sans-serif" font-weight="bold" font-size="18.60" fill="#ed9a2a" text-anchor="start"><tspan>deformation </tspan><tspan font-weight="normal">ε</tspan><tspan dy="4.65" font-size="12.09" font-weight="normal">002</tspan></text>
<text transform="translate(1117.50,715.70) scale(1.0455,1)" font-family="'Liberation Sans', Arial, sans-serif" font-weight="bold" font-size="19.04" fill="#000" text-anchor="start"><tspan>c-Ge</tspan></text>
<text transform="translate(1117.20,739.30) scale(1.0472,1)" font-family="'Liberation Sans', Arial, sans-serif" font-weight="bold" font-size="19.04" fill="#000" text-anchor="start"><tspan>QW</tspan></text>
<text transform="translate(1015.48,793.10) scale(1.0677,1)" font-family="'Liberation Sans', Arial, sans-serif" font-weight="bold" font-size="19.04" fill="#9c9c9c" text-anchor="start"><tspan>In-plane deformation </tspan><tspan font-weight="normal">ε</tspan><tspan dy="4.76" font-size="12.38" font-weight="normal">220</tspan></text>
<text transform="translate(1174.10,871.80) scale(1.1535,1)" font-family="'Liberation Sans', Arial, sans-serif" font-weight="bold" font-size="17.44" fill="#1f66b2" text-anchor="start"><tspan>Si</tspan></text>
<text transform="translate(687.03,689.50) scale(1.1191,1)" font-family="Carlito, 'Liberation Sans', sans-serif" font-weight="bold" font-size="35.30" fill="#000" text-anchor="start"><tspan>(e)</tspan></text>
<circle cx="1566.10" cy="883.60" r="5.40" fill="#ff0000"/>
<circle cx="1575.40" cy="876.00" r="5.40" fill="#ff0000"/>
<circle cx="1580.10" cy="866.80" r="5.40" fill="#ff0000"/>
<circle cx="1589.10" cy="861.00" r="5.40" fill="#ff0000"/>
<circle cx="1596.90" cy="851.30" r="5.40" fill="#ff0000"/>
<circle cx="1602.70" cy="844.20" r="5.40" fill="#ff0000"/>
<circle cx="1610.60" cy="835.20" r="5.40" fill="#ff0000"/>
<circle cx="1618.40" cy="827.20" r="5.40" fill="#ff0000"/>
<circle cx="1619.40" cy="814.80" r="5.40" fill="#ff0000"/>
<circle cx="1628.90" cy="806.20" r="5.40" fill="#ff0000"/>
<circle cx="1636.40" cy="798.20" r="5.40" fill="#ff0000"/>
<circle cx="1645.20" cy="772.40" r="5.40" fill="#ff0000"/>
<circle cx="1651.70" cy="795.40" r="5.40" fill="#ff0000"/>
<circle cx="1656.00" cy="763.60" r="5.40" fill="#ff0000"/>
<circle cx="1663.90" cy="763.80" r="5.40" fill="#ff0000"/>
<circle cx="1671.50" cy="754.60" r="5.40" fill="#ff0000"/>
<circle cx="1672.50" cy="739.10" r="5.40" fill="#ff0000"/>
<circle cx="1677.30" cy="725.10" r="5.40" fill="#ff0000"/>
<circle cx="1692.30" cy="727.10" r="5.40" fill="#ff0000"/>
<circle cx="1707.60" cy="725.60" r="5.40" fill="#ff0000"/>
<circle cx="1712.30" cy="713.10" r="5.40" fill="#ff0000"/>
<circle cx="1715.10" cy="699.30" r="5.40" fill="#ff0000"/>
<circle cx="1727.30" cy="696.50" r="5.40" fill="#ff0000"/>
<circle cx="1735.30" cy="693.30" r="5.40" fill="#ff0000"/>
<circle cx="1744.50" cy="685.80" r="5.40" fill="#ff0000"/>
<circle cx="1745.60" cy="673.30" r="5.40" fill="#ff0000"/>
<circle cx="1754.90" cy="665.80" r="5.40" fill="#ff0000"/>
<circle cx="1765.00" cy="662.10" r="5.40" fill="#ff0000"/>
<circle cx="1776.80" cy="662.10" r="5.40" fill="#ff0000"/>
<circle cx="1783.50" cy="652.50" r="5.40" fill="#ff0000"/>
<circle cx="1788.00" cy="644.40" r="5.40" fill="#ff0000"/>
<circle cx="1798.80" cy="640.10" r="5.40" fill="#ff0000"/>
<circle cx="1808.00" cy="640.60" r="5.40" fill="#ff0000"/>
<circle cx="1814.10" cy="632.50" r="5.40" fill="#ff0000"/>
<circle cx="1815.40" cy="620.00" r="5.40" fill="#ff0000"/>
<circle cx="1823.00" cy="615.90" r="5.40" fill="#ff0000"/>
<circle cx="1835.10" cy="617.50" r="5.40" fill="#ff0000"/>
<circle cx="1843.20" cy="615.10" r="5.40" fill="#ff0000"/>
<circle cx="1846.40" cy="607.00" r="5.40" fill="#ff0000"/>
<circle cx="1853.60" cy="601.40" r="5.40" fill="#ff0000"/>
<circle cx="1861.70" cy="598.20" r="5.40" fill="#ff0000"/>
<circle cx="1865.70" cy="594.10" r="5.40" fill="#ff0000"/>
<circle cx="1873.00" cy="590.90" r="5.40" fill="#ff0000"/>
<circle cx="1877.80" cy="586.10" r="5.40" fill="#ff0000"/>
<circle cx="1885.90" cy="585.30" r="5.40" fill="#ff0000"/>
<circle cx="1886.70" cy="580.40" r="5.40" fill="#ff0000"/>
<circle cx="1892.30" cy="577.20" r="5.40" fill="#ff0000"/>
<circle cx="1895.45" cy="575.71" r="5.40" fill="#ff0000"/>
<circle cx="1898.60" cy="572.42" r="5.40" fill="#ff0000"/>
<circle cx="1901.75" cy="571.53" r="5.40" fill="#ff0000"/>
<circle cx="1904.90" cy="568.24" r="5.40" fill="#ff0000"/>
<circle cx="1908.05" cy="567.35" r="5.40" fill="#ff0000"/>
<circle cx="1911.20" cy="564.06" r="5.40" fill="#ff0000"/>
<circle cx="1914.35" cy="563.17" r="5.40" fill="#ff0000"/>
<circle cx="1917.50" cy="559.88" r="5.40" fill="#ff0000"/>
<circle cx="1920.65" cy="558.99" r="5.40" fill="#ff0000"/>
<circle cx="1923.80" cy="555.70" r="5.40" fill="#ff0000"/>
<circle cx="1927.00" cy="555.00" r="5.40" fill="#ff0000"/>
<circle cx="1930.20" cy="553.80" r="5.40" fill="#ff0000"/>
<circle cx="1934.00" cy="551.50" r="5.40" fill="#ff0000"/>
<circle cx="1939.90" cy="549.00" r="5.40" fill="#ff0000"/>
<circle cx="1944.00" cy="548.00" r="5.40" fill="#ff0000"/>
<circle cx="1947.90" cy="546.60" r="5.40" fill="#ff0000"/>
<circle cx="1951.00" cy="545.50" r="5.40" fill="#ff0000"/>
<circle cx="1954.40" cy="544.20" r="5.40" fill="#ff0000"/>
<rect x="1547.10" y="527.60" width="426.60" height="372.80" fill="none" stroke="#000" stroke-width="1.3"/>
<line x1="1542.20" y1="877.20" x2="1547.10" y2="877.20" stroke="#000" stroke-width="1.2"/>
<text transform="translate(1535.00,886.70)" font-family="'DejaVu Sans', sans-serif" font-weight="normal" font-size="26.00" fill="#000" text-anchor="end"><tspan>70000</tspan></text>
<line x1="1542.20" y1="815.80" x2="1547.10" y2="815.80" stroke="#000" stroke-width="1.2"/>
<text transform="translate(1535.00,825.30)" font-family="'DejaVu Sans', sans-serif" font-weight="normal" font-size="26.00" fill="#000" text-anchor="end"><tspan>80000</tspan></text>
<line x1="1542.20" y1="754.40" x2="1547.10" y2="754.40" stroke="#000" stroke-width="1.2"/>
<text transform="translate(1535.00,763.90)" font-family="'DejaVu Sans', sans-serif" font-weight="normal" font-size="26.00" fill="#000" text-anchor="end"><tspan>90000</tspan></text>
<line x1="1542.20" y1="693.00" x2="1547.10" y2="693.00" stroke="#000" stroke-width="1.2"/>
<text transform="translate(1535.00,702.50)" font-family="'DejaVu Sans', sans-serif" font-weight="normal" font-size="26.00" fill="#000" text-anchor="end"><tspan>100000</tspan></text>
<line x1="1542.20" y1="631.60" x2="1547.10" y2="631.60" stroke="#000" stroke-width="1.2"/>
<text transform="translate(1535.00,641.10)" font-family="'DejaVu Sans', sans-serif" font-weight="normal" font-size="26.00" fill="#000" text-anchor="end"><tspan>110000</tspan></text>
<line x1="1542.20" y1="570.20" x2="1547.10" y2="570.20" stroke="#000" stroke-width="1.2"/>
<text transform="translate(1535.00,579.70)" font-family="'DejaVu Sans', sans-serif" font-weight="normal" font-size="26.00" fill="#000" text-anchor="end"><tspan>120000</tspan></text>
<line x1="1629.00" y1="900.40" x2="1629.00" y2="905.20" stroke="#000" stroke-width="1.2"/>
<text transform="translate(1629.00,930.90)" font-family="'DejaVu Sans', sans-serif" font-weight="normal" font-size="24.40" fill="#000" text-anchor="middle"><tspan>2.5</tspan></text>
<line x1="1745.00" y1="900.40" x2="1745.00" y2="905.20" stroke="#000" stroke-width="1.2"/>
<text transform="translate(1745.00,930.90)" font-family="'DejaVu Sans', sans-serif" font-weight="normal" font-size="24.40" fill="#000" text-anchor="middle"><tspan>3.0</tspan></text>
<line x1="1861.00" y1="900.40" x2="1861.00" y2="905.20" stroke="#000" stroke-width="1.2"/>
<text transform="translate(1861.00,930.90)" font-family="'DejaVu Sans', sans-serif" font-weight="normal" font-size="24.40" fill="#000" text-anchor="middle"><tspan>3.5</tspan></text>
<text transform="translate(1685.52,969.10) scale(1.0151,1)" font-family="'DejaVu Sans', sans-serif" font-weight="normal" font-size="26.00" fill="#000" text-anchor="start"><tspan>n</tspan><tspan dy="5.20" font-size="18.72">2</tspan><tspan font-size="18.72" font-style="italic">D</tspan><tspan dy="-5.20"> [1/cm</tspan><tspan dy="-10.92" font-size="18.72">2</tspan><tspan dy="10.92">]</tspan></text>
<text transform="translate(1907.17,963.30) scale(1.0126,1)" font-family="'DejaVu Sans', sans-serif" font-weight="normal" font-size="25.40" fill="#000" text-anchor="start"><tspan>1e11</tspan></text>
<text transform="translate(1415.60,794.29) rotate(-90) scale(1.0984,1)" font-family="'DejaVu Sans', sans-serif" font-weight="normal" font-size="24.50" fill="#000" text-anchor="start"><tspan font-style="italic">μ</tspan><tspan> [cm</tspan><tspan dy="-10.29" font-size="17.64">2</tspan><tspan dy="10.29">/ V s]</tspan></text>
<text transform="translate(1892.71,865.80) scale(1.0435,1)" font-family="Carlito, 'Liberation Sans', sans-serif" font-weight="bold" font-size="36.50" fill="#000" text-anchor="start"><tspan>(f)</tspan></text>
<text transform="translate(36.00,1020.70) scale(1.1005,1)" font-family="Carlito, 'Liberation Sans', sans-serif" font-weight="bold" font-size="26.50" fill="#000" text-anchor="start" word-spacing="1.435" stroke="#000" stroke-width="0.35"><tspan>Figure 1 : (a) SIMS depth profiles of Si isotopes in a </tspan><tspan dy="-9.54" font-size="17.23">28</tspan><tspan dy="9.54">Si epilayer; (b) Si growth rate function of the growth temperature and HCl flow for a given SiH</tspan><tspan dy="5.04" font-size="17.23">4</tspan><tspan dy="-5.04"> flow; (c)</tspan></text>
<text transform="translate(36.00,1055.50) scale(1.1005,1)" font-family="Carlito, 'Liberation Sans', sans-serif" font-weight="bold" font-size="26.50" fill="#000" text-anchor="start" word-spacing="2.759" stroke="#000" stroke-width="0.35"><tspan>EDX profile of the Ge and Si concentration in a Si</tspan><tspan dy="5.04" font-size="17.23">0.21</tspan><tspan dy="-5.04">Ge</tspan><tspan dy="5.04" font-size="17.23">0.79</tspan><tspan dy="-5.04"> virtual substrate; (d) SiGe/c-Ge/SiGe/Si cap stack grown at 500°C on a polished Si</tspan><tspan dy="5.04" font-size="17.23">0.21</tspan><tspan dy="-5.04">Ge</tspan><tspan dy="5.04" font-size="17.23">0.79</tspan><tspan dy="-5.04"> virtual</tspan></text>
<text transform="translate(36.00,1090.00) scale(1.1005,1)" font-family="Carlito, 'Liberation Sans', sans-serif" font-weight="bold" font-size="26.50" fill="#000" text-anchor="start" stroke="#000" stroke-width="0.35"><tspan>substrate; (e) Ge and Si concentration &amp; deformation depth profiles in that 2DHG heterostructure; (f) mobility @ 4.2K function of the 2DHG sheet density.</tspan></text>
</svg></body></html>
